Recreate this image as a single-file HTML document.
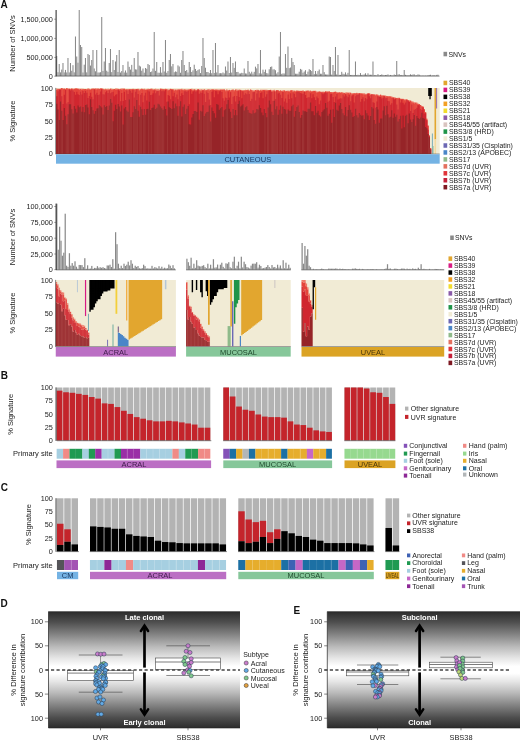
<!DOCTYPE html>
<html><head><meta charset="utf-8"><title>Mutational signatures across melanoma subtypes</title>
<style>html,body{margin:0;padding:0;background:#fff}svg{display:block;font-family:"Liberation Sans",Arial,Helvetica,sans-serif}</style>
</head><body>
<svg width="520" height="741" viewBox="0 0 520 741">
<rect width="520" height="741" fill="#ffffff"/>
<text x="0.6" y="7.6" font-size="10" font-weight="bold" fill="#111">A</text>
<text x="14.6" y="43.5" font-size="7.5" text-anchor="middle" transform="rotate(-90 14.6 43.5)" fill="#1c1c1c">Number of SNVs</text>
<text x="52.9" y="22" font-size="7.3" text-anchor="end" fill="#1c1c1c">1,500,000</text>
<line x1="54.3" y1="19.2" x2="55.8" y2="19.2" stroke="#333" stroke-width="0.5"/>
<text x="52.9" y="41.2" font-size="7.3" text-anchor="end" fill="#1c1c1c">1,000,000</text>
<line x1="54.3" y1="38.4" x2="55.8" y2="38.4" stroke="#333" stroke-width="0.5"/>
<text x="52.9" y="60.2" font-size="7.3" text-anchor="end" fill="#1c1c1c">500,000</text>
<line x1="54.3" y1="57.4" x2="55.8" y2="57.4" stroke="#333" stroke-width="0.5"/>
<text x="52.9" y="79" font-size="7.3" text-anchor="end" fill="#1c1c1c">0</text>
<line x1="54.3" y1="76.2" x2="55.8" y2="76.2" stroke="#333" stroke-width="0.5"/>
<g fill="#8a8a8a">
<rect x="56.2" y="56" width="1.05" height="20"/>
<rect x="57.45" y="72.23" width="1.05" height="3.77"/>
<rect x="58.7" y="64" width="1.05" height="12"/>
<rect x="59.95" y="72.38" width="1.05" height="3.62"/>
<rect x="61.2" y="69.58" width="1.05" height="6.42"/>
<rect x="62.45" y="63" width="1.05" height="13"/>
<rect x="63.7" y="72.4" width="1.05" height="3.6"/>
<rect x="64.95" y="69.92" width="1.05" height="6.08"/>
<rect x="66.2" y="72.43" width="1.05" height="3.57"/>
<rect x="67.45" y="58" width="1.05" height="18"/>
<rect x="68.7" y="72.41" width="1.05" height="3.59"/>
<rect x="69.95" y="63" width="1.05" height="13"/>
<rect x="71.2" y="70.77" width="1.05" height="5.23"/>
<rect x="72.45" y="65.17" width="1.05" height="10.83"/>
<rect x="73.7" y="72.35" width="1.05" height="3.65"/>
<rect x="74.95" y="36.5" width="1.05" height="39.5"/>
<rect x="76.2" y="56.5" width="1.05" height="19.5"/>
<rect x="77.45" y="62.68" width="1.05" height="13.32"/>
<rect x="78.7" y="10" width="1.05" height="66"/>
<rect x="79.95" y="45" width="1.05" height="31"/>
<rect x="81.2" y="47" width="1.05" height="29"/>
<rect x="82.45" y="72.48" width="1.05" height="3.52"/>
<rect x="83.7" y="64.67" width="1.05" height="11.33"/>
<rect x="84.95" y="58" width="1.05" height="18"/>
<rect x="86.2" y="72.35" width="1.05" height="3.65"/>
<rect x="87.45" y="54" width="1.05" height="22"/>
<rect x="88.7" y="55" width="1.05" height="21"/>
<rect x="89.95" y="65.56" width="1.05" height="10.44"/>
<rect x="91.2" y="60" width="1.05" height="16"/>
<rect x="92.45" y="50" width="1.05" height="26"/>
<rect x="93.7" y="68.48" width="1.05" height="7.52"/>
<rect x="94.95" y="71.3" width="1.05" height="4.7"/>
<rect x="96.2" y="50" width="1.05" height="26"/>
<rect x="97.45" y="72.52" width="1.05" height="3.48"/>
<rect x="98.7" y="72.53" width="1.05" height="3.47"/>
<rect x="99.95" y="72.22" width="1.05" height="3.78"/>
<rect x="101.2" y="17" width="1.05" height="59"/>
<rect x="102.45" y="70.9" width="1.05" height="5.1"/>
<rect x="103.7" y="61.5" width="1.05" height="14.5"/>
<rect x="104.95" y="48" width="1.05" height="28"/>
<rect x="106.2" y="70.7" width="1.05" height="5.3"/>
<rect x="107.45" y="71.82" width="1.05" height="4.18"/>
<rect x="108.7" y="63" width="1.05" height="13"/>
<rect x="109.95" y="49" width="1.05" height="27"/>
<rect x="111.2" y="72.11" width="1.05" height="3.89"/>
<rect x="112.45" y="60" width="1.05" height="16"/>
<rect x="113.7" y="70.02" width="1.05" height="5.98"/>
<rect x="114.95" y="61.5" width="1.05" height="14.5"/>
<rect x="116.2" y="55" width="1.05" height="21"/>
<rect x="117.45" y="71.93" width="1.05" height="4.07"/>
<rect x="118.7" y="50" width="1.05" height="26"/>
<rect x="119.95" y="72.53" width="1.05" height="3.47"/>
<rect x="121.2" y="71.08" width="1.05" height="4.92"/>
<rect x="122.45" y="65" width="1.05" height="11"/>
<rect x="123.7" y="72.47" width="1.05" height="3.53"/>
<rect x="124.95" y="70.46" width="1.05" height="5.54"/>
<rect x="126.2" y="72.64" width="1.05" height="3.36"/>
<rect x="127.45" y="61.5" width="1.05" height="14.5"/>
<rect x="128.7" y="66.86" width="1.05" height="9.14"/>
<rect x="129.95" y="69.59" width="1.05" height="6.41"/>
<rect x="131.2" y="64.87" width="1.05" height="11.13"/>
<rect x="132.45" y="71.85" width="1.05" height="4.15"/>
<rect x="133.7" y="58" width="1.05" height="18"/>
<rect x="134.95" y="69.36" width="1.05" height="6.64"/>
<rect x="136.2" y="69.55" width="1.05" height="6.45"/>
<rect x="137.45" y="52" width="1.05" height="24"/>
<rect x="138.7" y="65.63" width="1.05" height="10.37"/>
<rect x="139.95" y="66.5" width="1.05" height="9.5"/>
<rect x="141.2" y="70.7" width="1.05" height="5.3"/>
<rect x="142.45" y="68.51" width="1.05" height="7.49"/>
<rect x="143.7" y="72.68" width="1.05" height="3.32"/>
<rect x="144.95" y="67.99" width="1.05" height="8.01"/>
<rect x="146.2" y="68.77" width="1.05" height="7.23"/>
<rect x="147.45" y="64" width="1.05" height="12"/>
<rect x="148.7" y="65" width="1.05" height="11"/>
<rect x="149.95" y="72.08" width="1.05" height="3.92"/>
<rect x="151.2" y="71.47" width="1.05" height="4.53"/>
<rect x="152.45" y="68.53" width="1.05" height="7.47"/>
<rect x="153.7" y="32" width="1.05" height="44"/>
<rect x="154.95" y="70.88" width="1.05" height="5.12"/>
<rect x="156.2" y="62" width="1.05" height="14"/>
<rect x="157.45" y="72.66" width="1.05" height="3.34"/>
<rect x="158.7" y="72.74" width="1.05" height="3.26"/>
<rect x="159.95" y="67.09" width="1.05" height="8.91"/>
<rect x="161.2" y="72.65" width="1.05" height="3.35"/>
<rect x="162.45" y="62" width="1.05" height="14"/>
<rect x="163.7" y="71.5" width="1.05" height="4.5"/>
<rect x="164.95" y="40" width="1.05" height="36"/>
<rect x="166.2" y="72.74" width="1.05" height="3.26"/>
<rect x="167.45" y="71.06" width="1.05" height="4.94"/>
<rect x="168.7" y="60" width="1.05" height="16"/>
<rect x="169.95" y="54" width="1.05" height="22"/>
<rect x="171.2" y="66.35" width="1.05" height="9.65"/>
<rect x="172.45" y="64" width="1.05" height="12"/>
<rect x="173.7" y="72.23" width="1.05" height="3.77"/>
<rect x="174.95" y="71.41" width="1.05" height="4.59"/>
<rect x="176.2" y="71.82" width="1.05" height="4.18"/>
<rect x="177.45" y="65.39" width="1.05" height="10.61"/>
<rect x="178.7" y="66.5" width="1.05" height="9.5"/>
<rect x="179.95" y="72.74" width="1.05" height="3.26"/>
<rect x="181.2" y="60" width="1.05" height="16"/>
<rect x="182.45" y="51" width="1.05" height="25"/>
<rect x="183.7" y="65" width="1.05" height="11"/>
<rect x="184.95" y="71" width="1.05" height="5"/>
<rect x="186.2" y="69.99" width="1.05" height="6.01"/>
<rect x="187.45" y="72.47" width="1.05" height="3.53"/>
<rect x="188.7" y="62" width="1.05" height="14"/>
<rect x="189.95" y="67" width="1.05" height="9"/>
<rect x="191.2" y="71.96" width="1.05" height="4.04"/>
<rect x="192.45" y="70.36" width="1.05" height="5.64"/>
<rect x="193.7" y="64.7" width="1.05" height="11.3"/>
<rect x="194.95" y="68.96" width="1.05" height="7.04"/>
<rect x="196.2" y="70.92" width="1.05" height="5.08"/>
<rect x="197.45" y="69.91" width="1.05" height="6.09"/>
<rect x="198.7" y="69.24" width="1.05" height="6.76"/>
<rect x="199.95" y="73.09" width="1.05" height="2.91"/>
<rect x="201.2" y="65.97" width="1.05" height="10.03"/>
<rect x="202.45" y="38" width="1.05" height="38"/>
<rect x="203.7" y="58" width="1.05" height="18"/>
<rect x="204.95" y="67.74" width="1.05" height="8.26"/>
<rect x="206.2" y="72.03" width="1.05" height="3.97"/>
<rect x="207.45" y="72.01" width="1.05" height="3.99"/>
<rect x="208.7" y="73.13" width="1.05" height="2.87"/>
<rect x="209.95" y="70" width="1.05" height="6"/>
<rect x="211.2" y="73.2" width="1.05" height="2.8"/>
<rect x="212.45" y="50" width="1.05" height="26"/>
<rect x="213.7" y="72.97" width="1.05" height="3.03"/>
<rect x="214.95" y="43" width="1.05" height="33"/>
<rect x="216.2" y="72.47" width="1.05" height="3.53"/>
<rect x="217.45" y="65" width="1.05" height="11"/>
<rect x="218.7" y="73.3" width="1.05" height="2.7"/>
<rect x="219.95" y="73.18" width="1.05" height="2.82"/>
<rect x="221.2" y="73.27" width="1.05" height="2.73"/>
<rect x="222.45" y="72.44" width="1.05" height="3.56"/>
<rect x="223.7" y="73.35" width="1.05" height="2.65"/>
<rect x="224.95" y="66.5" width="1.05" height="9.5"/>
<rect x="226.2" y="70.57" width="1.05" height="5.43"/>
<rect x="227.45" y="61.5" width="1.05" height="14.5"/>
<rect x="228.7" y="73.01" width="1.05" height="2.99"/>
<rect x="229.95" y="57" width="1.05" height="19"/>
<rect x="231.2" y="72.55" width="1.05" height="3.45"/>
<rect x="232.45" y="63" width="1.05" height="13"/>
<rect x="233.7" y="67.9" width="1.05" height="8.1"/>
<rect x="234.95" y="61.5" width="1.05" height="14.5"/>
<rect x="236.2" y="72.01" width="1.05" height="3.99"/>
<rect x="237.45" y="71.9" width="1.05" height="4.1"/>
<rect x="238.7" y="73.47" width="1.05" height="2.53"/>
<rect x="239.95" y="73.47" width="1.05" height="2.53"/>
<rect x="241.2" y="72.8" width="1.05" height="3.2"/>
<rect x="242.45" y="73.13" width="1.05" height="2.87"/>
<rect x="243.7" y="68.5" width="1.05" height="7.5"/>
<rect x="244.95" y="73.43" width="1.05" height="2.57"/>
<rect x="246.2" y="73.58" width="1.05" height="2.42"/>
<rect x="247.45" y="61" width="1.05" height="15"/>
<rect x="248.7" y="71.77" width="1.05" height="4.23"/>
<rect x="249.95" y="73.51" width="1.05" height="2.49"/>
<rect x="251.2" y="71.68" width="1.05" height="4.32"/>
<rect x="252.45" y="73.63" width="1.05" height="2.37"/>
<rect x="253.7" y="71.83" width="1.05" height="4.17"/>
<rect x="254.95" y="66.65" width="1.05" height="9.35"/>
<rect x="256.2" y="68.36" width="1.05" height="7.64"/>
<rect x="257.45" y="64" width="1.05" height="12"/>
<rect x="258.7" y="73.3" width="1.05" height="2.7"/>
<rect x="259.95" y="50" width="1.05" height="26"/>
<rect x="261.2" y="73.55" width="1.05" height="2.45"/>
<rect x="262.45" y="69.64" width="1.05" height="6.36"/>
<rect x="263.7" y="71.92" width="1.05" height="4.08"/>
<rect x="264.95" y="69.6" width="1.05" height="6.4"/>
<rect x="266.2" y="73.11" width="1.05" height="2.89"/>
<rect x="267.45" y="73.48" width="1.05" height="2.52"/>
<rect x="268.7" y="69.29" width="1.05" height="6.71"/>
<rect x="269.95" y="66.96" width="1.05" height="9.04"/>
<rect x="271.2" y="66.5" width="1.05" height="9.5"/>
<rect x="272.45" y="69.44" width="1.05" height="6.56"/>
<rect x="273.7" y="69.32" width="1.05" height="6.68"/>
<rect x="274.95" y="70.23" width="1.05" height="5.77"/>
<rect x="276.2" y="73.53" width="1.05" height="2.47"/>
<rect x="277.45" y="72.2" width="1.05" height="3.8"/>
<rect x="278.7" y="56.5" width="1.05" height="19.5"/>
<rect x="279.95" y="32" width="1.05" height="44"/>
<rect x="281.2" y="73.83" width="1.05" height="2.17"/>
<rect x="282.45" y="73.43" width="1.05" height="2.57"/>
<rect x="283.7" y="73.5" width="1.05" height="2.5"/>
<rect x="284.95" y="54" width="1.05" height="22"/>
<rect x="286.2" y="67.82" width="1.05" height="8.18"/>
<rect x="287.45" y="46.5" width="1.05" height="29.5"/>
<rect x="288.7" y="68.15" width="1.05" height="7.85"/>
<rect x="289.95" y="67.48" width="1.05" height="8.52"/>
<rect x="291.2" y="58" width="1.05" height="18"/>
<rect x="292.45" y="62" width="1.05" height="14"/>
<rect x="293.7" y="65" width="1.05" height="11"/>
<rect x="294.95" y="73.68" width="1.05" height="2.32"/>
<rect x="296.2" y="73.76" width="1.05" height="2.24"/>
<rect x="297.45" y="73.75" width="1.05" height="2.25"/>
<rect x="298.7" y="71.69" width="1.05" height="4.31"/>
<rect x="299.95" y="68.91" width="1.05" height="7.09"/>
<rect x="301.2" y="69.65" width="1.05" height="6.35"/>
<rect x="302.45" y="72.73" width="1.05" height="3.27"/>
<rect x="303.7" y="71.53" width="1.05" height="4.47"/>
<rect x="304.95" y="70.17" width="1.05" height="5.83"/>
<rect x="306.2" y="74" width="1.05" height="2"/>
<rect x="307.45" y="71.61" width="1.05" height="4.39"/>
<rect x="308.7" y="69.23" width="1.05" height="6.77"/>
<rect x="309.95" y="70" width="1.05" height="6"/>
<rect x="311.2" y="71.09" width="1.05" height="4.91"/>
<rect x="312.45" y="59" width="1.05" height="17"/>
<rect x="313.7" y="74.09" width="1.05" height="1.91"/>
<rect x="314.95" y="71" width="1.05" height="5"/>
<rect x="316.2" y="73.81" width="1.05" height="2.19"/>
<rect x="317.45" y="71.09" width="1.05" height="4.91"/>
<rect x="318.7" y="69.5" width="1.05" height="6.5"/>
<rect x="319.95" y="73.72" width="1.05" height="2.28"/>
<rect x="321.2" y="73.75" width="1.05" height="2.25"/>
<rect x="322.45" y="65" width="1.05" height="11"/>
<rect x="323.7" y="72.14" width="1.05" height="3.86"/>
<rect x="324.95" y="74.42" width="1.05" height="1.58"/>
<rect x="326.2" y="74.5" width="1.05" height="1.5"/>
<rect x="327.45" y="74.51" width="1.05" height="1.49"/>
<rect x="328.7" y="56.5" width="1.05" height="19.5"/>
<rect x="329.95" y="57" width="1.05" height="19"/>
<rect x="331.2" y="74.61" width="1.05" height="1.39"/>
<rect x="332.45" y="65" width="1.05" height="11"/>
<rect x="333.7" y="70.97" width="1.05" height="5.03"/>
<rect x="334.95" y="47" width="1.05" height="29"/>
<rect x="336.2" y="74.43" width="1.05" height="1.57"/>
<rect x="337.45" y="55" width="1.05" height="21"/>
<rect x="338.7" y="74.83" width="1.05" height="1.17"/>
<rect x="339.95" y="74.9" width="1.05" height="1.1"/>
<rect x="341.2" y="71.82" width="1.05" height="4.18"/>
<rect x="342.45" y="73.72" width="1.05" height="2.28"/>
<rect x="343.7" y="74.24" width="1.05" height="1.76"/>
<rect x="344.95" y="72.36" width="1.05" height="3.64"/>
<rect x="346.2" y="74.54" width="1.05" height="1.46"/>
<rect x="347.45" y="72.82" width="1.05" height="3.18"/>
<rect x="348.7" y="50" width="1.05" height="26"/>
<rect x="349.95" y="74.97" width="1.05" height="1.03"/>
<rect x="351.2" y="74.94" width="1.05" height="1.06"/>
<rect x="352.45" y="74.9" width="1.05" height="1.1"/>
<rect x="353.7" y="74.98" width="1.05" height="1.02"/>
<rect x="354.95" y="61.5" width="1.05" height="14.5"/>
<rect x="356.2" y="74.99" width="1.05" height="1.01"/>
<rect x="357.45" y="74.75" width="1.05" height="1.25"/>
<rect x="358.7" y="75.13" width="1.05" height="0.87"/>
<rect x="359.95" y="73.06" width="1.05" height="2.94"/>
<rect x="361.2" y="74.92" width="1.05" height="1.08"/>
<rect x="362.45" y="74.74" width="1.05" height="1.26"/>
<rect x="363.7" y="74.45" width="1.05" height="1.55"/>
<rect x="364.95" y="73.27" width="1.05" height="2.73"/>
<rect x="366.2" y="74.88" width="1.05" height="1.12"/>
<rect x="367.45" y="73.3" width="1.05" height="2.7"/>
<rect x="368.7" y="74.75" width="1.05" height="1.25"/>
<rect x="369.95" y="74.71" width="1.05" height="1.29"/>
<rect x="371.2" y="74.75" width="1.05" height="1.25"/>
<rect x="372.45" y="61.5" width="1.05" height="14.5"/>
<rect x="373.7" y="74.96" width="1.05" height="1.04"/>
<rect x="374.95" y="75.28" width="1.05" height="0.72"/>
<rect x="376.2" y="75.34" width="1.05" height="0.66"/>
<rect x="377.45" y="74.12" width="1.05" height="1.88"/>
<rect x="378.7" y="75.32" width="1.05" height="0.68"/>
<rect x="379.95" y="75" width="1.05" height="1"/>
<rect x="381.2" y="74.45" width="1.05" height="1.55"/>
<rect x="382.45" y="74.89" width="1.05" height="1.11"/>
<rect x="383.7" y="75.25" width="1.05" height="0.75"/>
<rect x="384.95" y="74.98" width="1.05" height="1.02"/>
<rect x="386.2" y="74.92" width="1.05" height="1.08"/>
<rect x="387.45" y="74.38" width="1.05" height="1.62"/>
<rect x="388.7" y="75.42" width="1.05" height="0.58"/>
<rect x="389.95" y="74.95" width="1.05" height="1.05"/>
<rect x="391.2" y="75.36" width="1.05" height="0.64"/>
<rect x="392.45" y="75.35" width="1.05" height="0.65"/>
<rect x="393.7" y="74.5" width="1.05" height="1.5"/>
<rect x="394.95" y="75.09" width="1.05" height="0.91"/>
<rect x="396.2" y="61" width="1.05" height="15"/>
<rect x="397.45" y="74.58" width="1.05" height="1.42"/>
<rect x="398.7" y="74.16" width="1.05" height="1.84"/>
<rect x="399.95" y="75.22" width="1.05" height="0.78"/>
<rect x="401.2" y="74.96" width="1.05" height="1.04"/>
<rect x="402.45" y="75.15" width="1.05" height="0.85"/>
<rect x="403.7" y="70" width="1.05" height="6"/>
<rect x="404.95" y="74.83" width="1.05" height="1.17"/>
<rect x="406.2" y="75.25" width="1.05" height="0.75"/>
<rect x="407.45" y="75.15" width="1.05" height="0.85"/>
<rect x="408.7" y="75.24" width="1.05" height="0.76"/>
<rect x="409.95" y="74.27" width="1.05" height="1.73"/>
<rect x="411.2" y="74.89" width="1.05" height="1.11"/>
<rect x="412.45" y="74.49" width="1.05" height="1.51"/>
<rect x="413.7" y="74.33" width="1.05" height="1.67"/>
<rect x="414.95" y="75.49" width="1.05" height="0.51"/>
<rect x="416.2" y="75.19" width="1.05" height="0.81"/>
<rect x="417.45" y="74.4" width="1.05" height="1.6"/>
<rect x="418.7" y="74.68" width="1.05" height="1.32"/>
<rect x="419.95" y="75.57" width="1.05" height="0.43"/>
<rect x="421.2" y="75.58" width="1.05" height="0.42"/>
<rect x="422.45" y="75.39" width="1.05" height="0.61"/>
<rect x="423.7" y="75.6" width="1.05" height="0.4"/>
<rect x="424.95" y="75.56" width="1.05" height="0.44"/>
<rect x="426.2" y="75.61" width="1.05" height="0.39"/>
<rect x="427.45" y="75.13" width="1.05" height="0.87"/>
<rect x="428.7" y="74.95" width="1.05" height="1.05"/>
<rect x="429.95" y="74.73" width="1.05" height="1.27"/>
<rect x="431.2" y="75.62" width="1.05" height="0.38"/>
<rect x="432.45" y="75.11" width="1.05" height="0.89"/>
<rect x="433.7" y="75.22" width="1.05" height="0.78"/>
<rect x="434.95" y="75.64" width="1.05" height="0.36"/>
<rect x="436.2" y="74.87" width="1.05" height="1.13"/>
<rect x="437.45" y="74.71" width="1.05" height="1.29"/>
</g>
<line x1="56.1" y1="10" x2="56.1" y2="76.3" stroke="#222" stroke-width="1"/>
<line x1="55.8" y1="76.1" x2="439.5" y2="76.1" stroke="#333" stroke-width="0.6"/>
<rect x="443.5" y="51.8" width="3.6" height="4.5" fill="#8a8a8a"/>
<text x="448.4" y="56.6" font-size="6.9" fill="#1c1c1c">SNVs</text>
<rect x="56" y="88" width="383.7" height="65.8" fill="#f1ebd5"/>
<path d="M56.2 153.8V88.61H57.45V88.66H58.7V88.64H59.95V88.53H61.2V88H62.45V88.6H63.7V88.14H64.95V88.77H66.2V88.05H67.45V88.48H68.7V88.64H69.95V88.84H71.2V88.24H72.45V88.68H73.7V88.5H74.95V88.2H76.2V88.08H77.45V88.63H78.7V88.71H79.95V88.7H81.2V88.81H82.45V88.75H83.7V88.96H84.95V88.97H86.2V88.94H87.45V88.35H88.7V88.66H89.95V88.97H91.2V88.38H92.45V88.33H93.7V88.44H94.95V88.32H96.2V88.46H97.45V88.59H98.7V88.84H99.95V88.23H101.2V88.49H102.45V88.86H103.7V89.08H104.95V88.85H106.2V89H107.45V88.72H108.7V88.89H109.95V88.68H111.2V88.7H112.45V89.12H113.7V89.03H114.95V88.44H116.2V88.39H117.45V88.86H118.7V89.09H119.95V88.75H121.2V88.44H122.45V88.59H123.7V88.66H124.95V88.93H126.2V89.01H127.45V89.1H128.7V89.06H129.95V89.18H131.2V89.04H132.45V88.82H133.7V89.04H134.95V89.1H136.2V88.91H137.45V88.7H138.7V89.31H139.95V89.11H141.2V88.52H142.45V89.3H143.7V88.79H144.95V89.26H146.2V89.17H147.45V88.82H148.7V89.17H149.95V88.81H151.2V88.6H152.45V89.23H153.7V89.23H154.95V88.77H156.2V89.27H157.45V89.1H158.7V89.4H159.95V88.6H161.2V88.66H162.45V89.18H163.7V89.18H164.95V88.78H166.2V89.09H167.45V89.47H168.7V89.47H169.95V88.75H171.2V89H172.45V88.89H173.7V89.52H174.95V89.34H176.2V89.4H177.45V89.29H178.7V89.51H179.95V89.11H181.2V88.75H182.45V89.41H183.7V88.98H184.95V89.15H186.2V89.43H187.45V89.32H188.7V88.98H189.95V88.9H191.2V88.86H192.45V89.48H193.7V89.2H194.95V89.51H196.2V89.73H197.45V89.07H198.7V89.42H199.95V89.53H201.2V89.3H202.45V89.63H203.7V89.04H204.95V89.68H206.2V89.76H207.45V89.4H208.7V89.17H209.95V89.45H211.2V89.35H212.45V89.17H213.7V89.56H214.95V89.15H216.2V89.21H217.45V89.58H218.7V89.57H219.95V89.31H221.2V89.57H222.45V89.55H223.7V89.33H224.95V89.89H226.2V89.32H227.45V89.89H228.7V89.74H229.95V89.93H231.2V89.84H232.45V89.5H233.7V89.99H234.95V89.61H236.2V89.57H237.45V89.82H238.7V89.5H239.95V89.65H241.2V90.13H242.45V90.06H243.7V90.18H244.95V89.69H246.2V90.09H247.45V89.47H248.7V90.22H249.95V89.44H251.2V90.23H252.45V90.27H253.7V90.13H254.95V90.06H256.2V89.67H257.45V89.73H258.7V90.18H259.95V89.79H261.2V89.74H262.45V89.69H263.7V89.65H264.95V89.7H266.2V89.66H267.45V89.89H268.7V90H269.95V89.76H271.2V90.54H272.45V90.09H273.7V89.85H274.95V90.45H276.2V90.11H277.45V90.02H278.7V90.67H279.95V89.88H281.2V90.7H282.45V90.28H283.7V90.06H284.95V90.78H286.2V90.64H287.45V90.58H288.7V90.75H289.95V90.32H291.2V90.12H292.45V90.47H293.7V90.52H294.95V90.66H296.2V90.32H297.45V90.58H298.7V90.74H299.95V90.73H301.2V90.87H302.45V90.21H303.7V90.9H304.95V90.75H306.2V90.57H307.45V90.35H308.7V90.79H309.95V90.46H311.2V90.98H312.45V90.78H313.7V90.85H314.95V90.78H316.2V91.47H317.45V91.48H318.7V91.2H319.95V91.52H321.2V91.66H322.45V91.47H323.7V91.66H324.95V91.27H326.2V91.35H327.45V91.25H328.7V91.44H329.95V91.9H331.2V92.05H332.45V92.08H333.7V91.83H334.95V91.69H336.2V91.98H337.45V92.5H338.7V92.36H339.95V92.2H341.2V92.11H342.45V92.47H343.7V92.71H344.95V92.54H346.2V92.31H347.45V92.74H348.7V92.62H349.95V92.39H351.2V93.26H352.45V92.95H353.7V93.04H354.95V93.13H356.2V92.71H357.45V93.11H358.7V93.05H359.95V92.95H361.2V93.02H362.45V93.28H363.7V93.27H364.95V93.67H366.2V93.83H367.45V93.32H368.7V93.49H369.95V93.74H371.2V93.95H372.45V94.37H373.7V94.36H374.95V94.45H376.2V94.19H377.45V94.81H378.7V95.22H379.95V94.7H381.2V95.15H382.45V95.3H383.7V95.39H384.95V95.43H386.2V95.96H387.45V95.92H388.7V96.12H389.95V96.4H391.2V96.61H392.45V96.93H393.7V97.25H394.95V97.41H396.2V97.92H397.45V97.68H398.7V97.79H399.95V98.61H401.2V98.66H402.45V98.7H403.7V99.18H404.95V99.23H406.2V99.14H407.45V100.13H408.7V100.24H409.95V100.62H411.2V101.33H412.45V101.58H413.7V102.19H414.95V102.13H416.2V102.49H417.45V103.55H418.7V104.01H419.95V105.06H421.2V105.92H422.45V106.35H423.7V108.95H424.95V112.16H426.2V118.46H427.45V125.52H428.7V135.44H429.95V148H431.2V153.8H432.45V153.8H433.7V153.8H434.95V153.8H436.2V153.8H437.45V153.8H438.7V153.8Z" fill="#ee7a68"/>
<path d="M56.2 153.8V89.91H57.45V89.34H58.7V89.22H59.95V89.21H61.2V88.05H62.45V89.16H63.7V88.89H64.95V89.33H66.2V88.14H67.45V89.2H68.7V88.79H69.95V89.25H71.2V88.69H72.45V89.41H73.7V89.07H74.95V88.86H76.2V88.91H77.45V88.72H78.7V89.86H79.95V89.09H81.2V90.09H82.45V89.15H83.7V89.23H84.95V89.09H86.2V89.71H87.45V89.29H88.7V89.61H89.95V90H91.2V89.05H92.45V89.1H93.7V88.92H94.95V89.14H96.2V89.44H97.45V88.68H98.7V89.11H99.95V88.73H101.2V88.59H102.45V89.26H103.7V89.99H104.95V89.46H106.2V90.23H107.45V89.99H108.7V89.65H109.95V88.85H111.2V89.88H112.45V89.71H113.7V89.03H114.95V89.66H116.2V89.71H117.45V89.23H118.7V89.42H119.95V89.24H121.2V89.68H122.45V89.18H123.7V88.83H124.95V89.9H126.2V89.53H127.45V90.29H128.7V89.24H129.95V89.3H131.2V89.58H132.45V89.27H133.7V89.87H134.95V89.43H136.2V88.94H137.45V89.32H138.7V90.44H139.95V89.79H141.2V89.12H142.45V89.61H143.7V89.63H144.95V90.02H146.2V89.78H147.45V89.44H148.7V89.19H149.95V89.15H151.2V89.16H152.45V90.21H153.7V89.54H154.95V90.02H156.2V90.52H157.45V90.38H158.7V90.56H159.95V89.03H161.2V89.16H162.45V89.19H163.7V89.45H164.95V89.35H166.2V89.57H167.45V90.54H168.7V89.81H169.95V89.11H171.2V89.36H172.45V89.72H173.7V90.78H174.95V89.98H176.2V90.42H177.45V89.76H178.7V89.59H179.95V90.34H181.2V89.69H182.45V90.22H183.7V90.09H184.95V90.12H186.2V90.19H187.45V89.98H188.7V90.05H189.95V89.05H191.2V90H192.45V90.72H193.7V89.39H194.95V90.37H196.2V90.14H197.45V89.15H198.7V90.34H199.95V90.78H201.2V90.61H202.45V89.9H203.7V90.2H204.95V90.52H206.2V89.95H207.45V89.54H208.7V90.41H209.95V89.96H211.2V89.64H212.45V89.41H213.7V89.89H214.95V90.14H216.2V90.03H217.45V90.14H218.7V90.21H219.95V89.91H221.2V89.69H222.45V89.66H223.7V89.83H224.95V91.2H226.2V90.58H227.45V90.91H228.7V90.1H229.95V91.14H231.2V90.05H232.45V89.72H233.7V91.14H234.95V89.74H236.2V90.88H237.45V90.4H238.7V90.34H239.95V90.06H241.2V90.81H242.45V90.92H243.7V90.48H244.95V90.51H246.2V90.22H247.45V90H248.7V91.07H249.95V89.77H251.2V90.3H252.45V91.51H253.7V91.2H254.95V90.12H256.2V90.65H257.45V90.02H258.7V91.1H259.95V90.52H261.2V91.01H262.45V90H263.7V90.08H264.95V90.61H266.2V90.79H267.45V90.3H268.7V90.04H269.95V89.95H271.2V91.51H272.45V91.16H273.7V90.94H274.95V91.57H276.2V90.24H277.45V90.44H278.7V91.15H279.95V91H281.2V91.16H282.45V91.42H283.7V91.07H284.95V91.43H286.2V90.99H287.45V91.5H288.7V91.66H289.95V90.85H291.2V90.46H292.45V91.63H293.7V91.37H294.95V91.77H296.2V91.08H297.45V90.89H298.7V90.94H299.95V90.95H301.2V91H302.45V91.18H303.7V91.41H304.95V91.66H306.2V91.1H307.45V91.11H308.7V91.81H309.95V91.3H311.2V92.01H312.45V91.33H313.7V91.09H314.95V91.42H316.2V92.71H317.45V92.2H318.7V91.74H319.95V92.03H321.2V92.18H322.45V92.39H323.7V92.35H324.95V91.55H326.2V92.09H327.45V92.1H328.7V91.61H329.95V92.25H331.2V92.42H332.45V92.64H333.7V91.91H334.95V91.87H336.2V92.85H337.45V92.81H338.7V92.58H339.95V93.07H341.2V92.8H342.45V93.2H343.7V92.9H344.95V93.68H346.2V93.42H347.45V92.84H348.7V93.84H349.95V93.02H351.2V94.39H352.45V93.96H353.7V93.43H354.95V93.49H356.2V93.13H357.45V94.14H358.7V93.06H359.95V93.81H361.2V93.94H362.45V94.16H363.7V94.48H364.95V94.71H366.2V94.4H367.45V93.37H368.7V93.51H369.95V95.03H371.2V94.15H372.45V94.53H373.7V94.68H374.95V95.39H376.2V94.8H377.45V95.75H378.7V96.18H379.95V94.78H381.2V96.2H382.45V95.85H383.7V95.77H384.95V96.52H386.2V96.36H387.45V96.82H388.7V96.68H389.95V96.45H391.2V97.73H392.45V97.38H393.7V98.47H394.95V98.02H396.2V98.03H397.45V98.44H398.7V98.04H399.95V99.09H401.2V99.15H402.45V98.91H403.7V100.32H404.95V100.26H406.2V99.48H407.45V100.24H408.7V101.44H409.95V100.78H411.2V102.21H412.45V102.85H413.7V103.38H414.95V103.07H416.2V103.72H417.45V104.55H418.7V104.23H419.95V105.07H421.2V106.61H422.45V106.94H423.7V109.39H424.95V112.35H426.2V119.44H427.45V125.87H428.7V135.62H429.95V148.14H431.2V153.8H432.45V153.8H433.7V153.8H434.95V153.8H436.2V153.8H437.45V153.8H438.7V153.8Z" fill="#e5443b"/>
<path d="M56.2 153.8V96.21H57.45V91.19H58.7V89.75H59.95V89.76H61.2V96.16H62.45V104.03H63.7V94.77H64.95V89.94H66.2V103.47H67.45V101.89H68.7V89.54H69.95V90.56H71.2V89.22H72.45V90.42H73.7V91.96H74.95V94.74H76.2V91.65H77.45V94.34H78.7V94.97H79.95V91.69H81.2V94.38H82.45V90.96H83.7V93.01H84.95V91.01H86.2V92.65H87.45V97.93H88.7V95.97H89.95V92.77H91.2V96.73H92.45V99.25H93.7V89.6H94.95V94.58H96.2V92.75H97.45V95.04H98.7V94.54H99.95V91.54H101.2V89.34H102.45V94.35H103.7V94.55H104.95V92.16H106.2V90.76H107.45V92.9H108.7V90.37H109.95V93.23H111.2V92.25H112.45V91.85H113.7V96.26H114.95V94.74H116.2V94.19H117.45V89.77H118.7V90.63H119.95V101.2H121.2V93.05H122.45V100.88H123.7V91.79H124.95V99.89H126.2V90.38H127.45V93.89H128.7V89.98H129.95V90.7H131.2V92.75H132.45V89.84H133.7V97.41H134.95V91.7H136.2V89.48H137.45V94.03H138.7V105.19H139.95V94.83H141.2V93.12H142.45V102.13H143.7V95.6H144.95V92.66H146.2V100.38H147.45V90.57H148.7V91.43H149.95V94.88H151.2V94.65H152.45V93.28H153.7V90.48H154.95V93.28H156.2V91.26H157.45V91.07H158.7V95.56H159.95V89.9H161.2V91.19H162.45V90.6H163.7V91.17H164.95V89.9H166.2V101.82H167.45V94.96H168.7V95.78H169.95V99.3H171.2V89.89H172.45V96.26H173.7V92.84H174.95V97.26H176.2V94.38H177.45V99.16H178.7V90.13H179.95V96.12H181.2V93.27H182.45V95.11H183.7V91.35H184.95V91.19H186.2V91.85H187.45V91H188.7V104.28H189.95V90.29H191.2V93.69H192.45V91.4H193.7V90.41H194.95V91.38H196.2V91.17H197.45V89.75H198.7V93.66H199.95V92.45H201.2V92.76H202.45V90.42H203.7V93.87H204.95V101.94H206.2V91.46H207.45V93.02H208.7V99.55H209.95V104.92H211.2V91.8H212.45V90.5H213.7V97.25H214.95V90.69H216.2V91.33H217.45V94.29H218.7V91.35H219.95V90.77H221.2V92.09H222.45V98.22H223.7V100.72H224.95V97.41H226.2V97.99H227.45V91.46H228.7V97.62H229.95V92.19H231.2V104.11H232.45V96.83H233.7V95.97H234.95V101.38H236.2V96.1H237.45V91.17H238.7V96.91H239.95V90.59H241.2V98.15H242.45V91.45H243.7V94.82H244.95V93.22H246.2V94.34H247.45V91.32H248.7V94.04H249.95V101.02H251.2V98.68H252.45V92.26H253.7V92.12H254.95V100.42H256.2V93.48H257.45V90.67H258.7V97.59H259.95V92.95H261.2V92.13H262.45V98.27H263.7V91.22H264.95V96.79H266.2V94.22H267.45V91.26H268.7V90.63H269.95V90.48H271.2V92.08H272.45V100.94H273.7V91.54H274.95V98.95H276.2V90.85H277.45V93.41H278.7V92.76H279.95V94.79H281.2V97.96H282.45V92.02H283.7V101.59H284.95V98.49H286.2V102.8H287.45V94.6H288.7V99.04H289.95V93.13H291.2V98.25H292.45V92.59H293.7V93.65H294.95V97.21H296.2V91.76H297.45V91.72H298.7V92.19H299.95V93.07H301.2V93.49H302.45V93.8H303.7V91.95H304.95V95.01H306.2V98.08H307.45V97.34H308.7V97.17H309.95V93.19H311.2V98.2H312.45V94.18H313.7V97.37H314.95V99.96H316.2V96.38H317.45V98.21H318.7V104.15H319.95V100.55H321.2V92.71H322.45V94.21H323.7V93.34H324.95V92.18H326.2V93.08H327.45V101.67H328.7V100.65H329.95V94.17H331.2V93.97H332.45V97.02H333.7V101.88H334.95V96.59H336.2V93.99H337.45V99.41H338.7V98.82H339.95V98.36H341.2V98.47H342.45V94.53H343.7V96.41H344.95V94.21H346.2V95.79H347.45V97.21H348.7V95.12H349.95V101.25H351.2V96.35H352.45V95.08H353.7V102.62H354.95V96.23H356.2V94.77H357.45V94.69H358.7V93.98H359.95V101.8H361.2V98.91H362.45V97.21H363.7V101.17H364.95V98.09H366.2V99.32H367.45V94.07H368.7V96.22H369.95V98.33H371.2V94.68H372.45V102.37H373.7V102.82H374.95V107.69H376.2V101.45H377.45V96.28H378.7V97.12H379.95V97.09H381.2V98.42H382.45V97.63H383.7V96.32H384.95V98.26H386.2V97.88H387.45V101.02H388.7V101.24H389.95V104.73H391.2V103.15H392.45V97.99H393.7V99.49H394.95V99H396.2V104.54H397.45V109.5H398.7V99H399.95V102.62H401.2V99.86H402.45V102.72H403.7V104.49H404.95V102.42H406.2V100.01H407.45V100.8H408.7V101.99H409.95V110.9H411.2V104.49H412.45V112.97H413.7V109.66H414.95V109H416.2V107.65H417.45V105.17H418.7V105.23H419.95V109.12H421.2V109.97H422.45V107.52H423.7V113.58H424.95V113.28H426.2V120.35H427.45V129.69H428.7V136.16H429.95V148.7H431.2V153.8H432.45V153.8H433.7V153.8H434.95V153.8H436.2V153.8H437.45V153.8H438.7V153.8Z" fill="#d0262f"/>
<path d="M56.2 153.8V103.77H57.45V109.56H58.7V119.91H59.95V101.47H61.2V110.72H62.45V120H63.7V107.98H64.95V115.66H66.2V124.21H67.45V114.22H68.7V104.35H69.95V104.29H71.2V109.25H72.45V113.43H73.7V106.1H74.95V108.75H76.2V112.58H77.45V105.51H78.7V107.25H79.95V106.59H81.2V111.66H82.45V107.07H83.7V112.2H84.95V104.93H86.2V104.57H87.45V107.43H88.7V114.27H89.95V99.34H91.2V107.05H92.45V110.29H93.7V113.77H94.95V111.07H96.2V108.43H97.45V108.13H98.7V105.14H99.95V106.27H101.2V107.41H102.45V114.61H103.7V105.17H104.95V106.99H106.2V106.07H107.45V110.12H108.7V105.62H109.95V99.1H111.2V102.85H112.45V121.13H113.7V110.66H114.95V104.73H116.2V109.11H117.45V104.1H118.7V106.62H119.95V111.48H121.2V105.6H122.45V124.46H123.7V108.53H124.95V106.99H126.2V110.58H127.45V111.69H128.7V99.42H129.95V117.01H131.2V117.05H132.45V112.34H133.7V106.17H134.95V108.99H136.2V99.92H137.45V110.75H138.7V116.67H139.95V106.72H141.2V109.27H142.45V115.07H143.7V109.08H144.95V114.69H146.2V109.09H147.45V108.7H148.7V101.71H149.95V110.05H151.2V107.99H152.45V107.42H153.7V104.77H154.95V109.02H156.2V107.84H157.45V103.87H158.7V104.53H159.95V106.48H161.2V108.23H162.45V109.72H163.7V106.33H164.95V108.93H166.2V115.59H167.45V101.52H168.7V107.19H169.95V107.91H171.2V108.99H172.45V101.17H173.7V108.29H174.95V103.58H176.2V106.33H177.45V115.64H178.7V106.35H179.95V101.36H181.2V116.56H182.45V106.84H183.7V104.59H184.95V114.03H186.2V108.67H187.45V106.06H188.7V124.23H189.95V124.59H191.2V117.43H192.45V113.96H193.7V110.89H194.95V110.95H196.2V112.1H197.45V102.45H198.7V119.65H199.95V110.8H201.2V111.57H202.45V105.23H203.7V115.92H204.95V113.59H206.2V112.07H207.45V111.73H208.7V105.62H209.95V121.53H211.2V107.48H212.45V110.94H213.7V113.23H214.95V117.73H216.2V104.07H217.45V104.74H218.7V109.74H219.95V108.28H221.2V106.99H222.45V116.7H223.7V110.18H224.95V109.17H226.2V104.24H227.45V100.12H228.7V108.86H229.95V111.72H231.2V117.9H232.45V108.94H233.7V115.37H234.95V110.09H236.2V115.17H237.45V104.08H238.7V100.84H239.95V106.41H241.2V105.59H242.45V104.2H243.7V110.56H244.95V107.24H246.2V106.13H247.45V110.08H248.7V112.8H249.95V113.33H251.2V113.75H252.45V110.22H253.7V113.36H254.95V112.51H256.2V109.02H257.45V109.44H258.7V105.36H259.95V108.02H261.2V112.44H262.45V115.14H263.7V108.99H264.95V112.92H266.2V117.33H267.45V107.44H268.7V100.47H269.95V104.34H271.2V111.73H272.45V115.12H273.7V100.79H274.95V109.36H276.2V106.35H277.45V114.77H278.7V109.76H279.95V105.41H281.2V113.67H282.45V106.86H283.7V109.07H284.95V109.49H286.2V113.67H287.45V109.41H288.7V110.85H289.95V110.75H291.2V106.37H292.45V104.68H293.7V116.78H294.95V111.06H296.2V107.05H297.45V105.38H298.7V112.12H299.95V117.79H301.2V114.95H302.45V110.41H303.7V111.13H304.95V111.26H306.2V111.92H307.45V108.82H308.7V108.74H309.95V102.43H311.2V111.21H312.45V111.13H313.7V115.3H314.95V106.12H316.2V112.66H317.45V110.87H318.7V115.26H319.95V116.49H321.2V111.91H322.45V110.56H323.7V109.16H324.95V102.92H326.2V107.82H327.45V115.8H328.7V113.72H329.95V109.75H331.2V122.83H332.45V109.35H333.7V116.89H334.95V102.72H336.2V109.87H337.45V110.83H338.7V105.44H339.95V103.03H341.2V109.1H342.45V113.28H343.7V115.18H344.95V107.08H346.2V116.18H347.45V109.96H348.7V105.19H349.95V109.76H351.2V112.6H352.45V117.05H353.7V116.05H354.95V108.81H356.2V115.31H357.45V117.53H358.7V113.03H359.95V114.72H361.2V115.75H362.45V115.22H363.7V119.33H364.95V110.13H366.2V113.23H367.45V115.44H368.7V120H369.95V116.05H371.2V107.08H372.45V108.62H373.7V120.08H374.95V123.71H376.2V107.01H377.45V109.57H378.7V122.87H379.95V118.62H381.2V118.47H382.45V110.54H383.7V106.17H384.95V115.37H386.2V105.75H387.45V114.37H388.7V117.42H389.95V116.69H391.2V110.26H392.45V117.83H393.7V113.43H394.95V116.85H396.2V114.63H397.45V121.47H398.7V119.01H399.95V115.77H401.2V128.39H402.45V115.47H403.7V127.19H404.95V115.7H406.2V114.77H407.45V123.13H408.7V113.45H409.95V119.57H411.2V121.9H412.45V119.31H413.7V114.98H414.95V125.64H416.2V115.99H417.45V117.95H418.7V118.88H419.95V117.49H421.2V112.78H422.45V117.9H423.7V118.78H424.95V126.97H426.2V128.27H427.45V134.01H428.7V137.24H429.95V149.39H431.2V153.8H432.45V153.8H433.7V153.8H434.95V153.8H436.2V153.8H437.45V153.8H438.7V153.8Z" fill="#962428"/>
<path d="M58.7 153.8V88.66M61.2 153.8V88.53M62.45 153.8V88.6M66.2 153.8V88.77M67.45 153.8V88.48M68.7 153.8V88.64M71.2 153.8V88.84M72.45 153.8V88.68M73.7 153.8V88.68M79.95 153.8V88.71M81.2 153.8V88.81M83.7 153.8V88.96M86.2 153.8V88.97M88.7 153.8V88.66M92.45 153.8V88.38M93.7 153.8V88.44M96.2 153.8V88.46M98.7 153.8V88.84M99.95 153.8V88.84M102.45 153.8V88.86M103.7 153.8V89.08M104.95 153.8V89.08M107.45 153.8V89M108.7 153.8V88.89M109.95 153.8V88.89M111.2 153.8V88.7M112.45 153.8V89.12M117.45 153.8V88.86M119.95 153.8V89.09M122.45 153.8V88.59M126.2 153.8V89.01M127.45 153.8V89.1M128.7 153.8V89.1M129.95 153.8V89.18M131.2 153.8V89.18M133.7 153.8V89.04M134.95 153.8V89.1M136.2 153.8V89.1M137.45 153.8V88.91M139.95 153.8V89.31M141.2 153.8V89.11M143.7 153.8V89.3M144.95 153.8V89.26M148.7 153.8V89.17M151.2 153.8V88.81M154.95 153.8V89.23M156.2 153.8V89.27M157.45 153.8V89.27M158.7 153.8V89.4M159.95 153.8V89.4M161.2 153.8V88.66M162.45 153.8V89.18M163.7 153.8V89.18M167.45 153.8V89.47M171.2 153.8V89M174.95 153.8V89.52M176.2 153.8V89.4M178.7 153.8V89.51M179.95 153.8V89.51M183.7 153.8V89.41M184.95 153.8V89.15M186.2 153.8V89.43M187.45 153.8V89.43M194.95 153.8V89.51M196.2 153.8V89.73M199.95 153.8V89.53M201.2 153.8V89.53M203.7 153.8V89.63M204.95 153.8V89.68M206.2 153.8V89.76M207.45 153.8V89.76M208.7 153.8V89.4M209.95 153.8V89.45M211.2 153.8V89.45M221.2 153.8V89.57M223.7 153.8V89.55M226.2 153.8V89.89M227.45 153.8V89.89M231.2 153.8V89.93M232.45 153.8V89.84M233.7 153.8V89.99M236.2 153.8V89.61M237.45 153.8V89.82M239.95 153.8V89.65M243.7 153.8V90.18M244.95 153.8V90.18M246.2 153.8V90.09M247.45 153.8V90.09M248.7 153.8V90.22M249.95 153.8V90.22M251.2 153.8V90.23M252.45 153.8V90.27M253.7 153.8V90.27M254.95 153.8V90.13M256.2 153.8V90.06M257.45 153.8V89.73M258.7 153.8V90.18M264.95 153.8V89.7M267.45 153.8V89.89M268.7 153.8V90M271.2 153.8V90.54M272.45 153.8V90.54M273.7 153.8V90.09M274.95 153.8V90.45M276.2 153.8V90.45M277.45 153.8V90.11M279.95 153.8V90.67M281.2 153.8V90.7M283.7 153.8V90.28M286.2 153.8V90.78M287.45 153.8V90.64M289.95 153.8V90.75M292.45 153.8V90.47M293.7 153.8V90.52M296.2 153.8V90.66M297.45 153.8V90.58M298.7 153.8V90.74M299.95 153.8V90.74M302.45 153.8V90.87M303.7 153.8V90.9M307.45 153.8V90.57M308.7 153.8V90.79M309.95 153.8V90.79M316.2 153.8V91.47M321.2 153.8V91.66M326.2 153.8V91.35M328.7 153.8V91.44M332.45 153.8V92.08M336.2 153.8V91.98M341.2 153.8V92.2M342.45 153.8V92.47M343.7 153.8V92.71M346.2 153.8V92.54M347.45 153.8V92.74M349.95 153.8V92.62M351.2 153.8V93.26M354.95 153.8V93.13M356.2 153.8V93.13M357.45 153.8V93.11M358.7 153.8V93.11M359.95 153.8V93.05M363.7 153.8V93.28M366.2 153.8V93.83M371.2 153.8V93.95M372.45 153.8V94.37M374.95 153.8V94.45M376.2 153.8V94.45M378.7 153.8V95.22M382.45 153.8V95.3M384.95 153.8V95.43M386.2 153.8V95.96M388.7 153.8V96.12M389.95 153.8V96.4M392.45 153.8V96.93M396.2 153.8V97.92M397.45 153.8V97.92M398.7 153.8V97.79M399.95 153.8V98.61M406.2 153.8V99.23M407.45 153.8V100.13M411.2 153.8V101.33M412.45 153.8V101.58M414.95 153.8V102.19M416.2 153.8V102.49M419.95 153.8V105.06M421.2 153.8V105.92M428.7 153.8V135.44M429.95 153.8V148" stroke="#f2b0a0" stroke-width="0.22" opacity="0.55" fill="none"/>
<path d="M428.2 88h1.2v7.9h-1.2zM429.4 88h1.25v11.19h-1.25zM430.6 88h1.2v7.9h-1.2z" fill="#000000"/>
<path d="M431.9 133.4h0.9v20.4h-0.9z" fill="#6da6b4"/>
<path d="M432.8 145.9h0.7v7.9h-0.7z" fill="#8fba8a"/>
<path d="M434.5 88h1.6v51.32h-1.6z" fill="#e2a62f"/>
<path d="M434.5 139.32h1.6v14.48h-1.6z" fill="#f3d9a0"/>
<path d="M436.2 88h0.9v20.4h-0.9z" fill="#8a5aa8"/>
<line x1="55.8" y1="154" x2="439.7" y2="154" stroke="#333" stroke-width="0.5"/>
<rect x="56" y="154.3" width="383.7" height="9.4" fill="#74b3e4"/>
<text x="247.8" y="162.2" font-size="7.5" text-anchor="middle" textLength="46.8" lengthAdjust="spacingAndGlyphs" fill="#1b3a63">CUTANEOUS</text>
<text x="14.6" y="121" font-size="7.5" text-anchor="middle" transform="rotate(-90 14.6 121)" fill="#1c1c1c">% Signature</text>
<text x="52.9" y="90.8" font-size="7.3" text-anchor="end" fill="#1c1c1c">100</text>
<text x="52.9" y="107.2" font-size="7.3" text-anchor="end" fill="#1c1c1c">75</text>
<text x="52.9" y="123.6" font-size="7.3" text-anchor="end" fill="#1c1c1c">50</text>
<text x="52.9" y="140" font-size="7.3" text-anchor="end" fill="#1c1c1c">25</text>
<text x="52.9" y="156.4" font-size="7.3" text-anchor="end" fill="#1c1c1c">0</text>
<line x1="55.7" y1="87.9" x2="55.7" y2="154.2" stroke="#333" stroke-width="0.6"/>
<rect x="443.5" y="80.7" width="3.7" height="4.5" fill="#e2a62f"/>
<text x="448.9" y="85.45" font-size="6.9" fill="#1c1c1c">SBS40</text>
<rect x="443.5" y="87.65" width="3.7" height="4.5" fill="#d81b84"/>
<text x="448.9" y="92.4" font-size="6.9" fill="#1c1c1c">SBS39</text>
<rect x="443.5" y="94.6" width="3.7" height="4.5" fill="#000000"/>
<text x="448.9" y="99.35" font-size="6.9" fill="#1c1c1c">SBS38</text>
<rect x="443.5" y="101.55" width="3.7" height="4.5" fill="#f2a024"/>
<text x="448.9" y="106.3" font-size="6.9" fill="#1c1c1c">SBS32</text>
<rect x="443.5" y="108.5" width="3.7" height="4.5" fill="#f2dc2e"/>
<text x="448.9" y="113.25" font-size="6.9" fill="#1c1c1c">SBS21</text>
<rect x="443.5" y="115.45" width="3.7" height="4.5" fill="#8a5aa8"/>
<text x="448.9" y="120.2" font-size="6.9" fill="#1c1c1c">SBS18</text>
<rect x="443.5" y="122.4" width="3.7" height="4.5" fill="#d9c4c0"/>
<text x="448.9" y="127.15" font-size="6.9" fill="#1c1c1c">SBS45/55 (artifact)</text>
<rect x="443.5" y="129.35" width="3.7" height="4.5" fill="#1f9448"/>
<text x="448.9" y="134.1" font-size="6.9" fill="#1c1c1c">SBS3/8 (HRD)</text>
<rect x="443.5" y="136.3" width="3.7" height="4.5" fill="#f1ebd5"/>
<text x="448.9" y="141.05" font-size="6.9" fill="#1c1c1c">SBS1/5</text>
<rect x="443.5" y="143.25" width="3.7" height="4.5" fill="#6c68b4"/>
<text x="448.9" y="148" font-size="6.9" fill="#1c1c1c">SBS31/35 (Cisplatin)</text>
<rect x="443.5" y="150.2" width="3.7" height="4.5" fill="#4a86c8"/>
<text x="448.9" y="154.95" font-size="6.9" fill="#1c1c1c">SBS2/13 (APOBEC)</text>
<rect x="443.5" y="157.15" width="3.7" height="4.5" fill="#8fba8a"/>
<text x="448.9" y="161.9" font-size="6.9" fill="#1c1c1c">SBS17</text>
<rect x="443.5" y="164.1" width="3.7" height="4.5" fill="#e4705e"/>
<text x="448.9" y="168.85" font-size="6.9" fill="#1c1c1c">SBS7d (UVR)</text>
<rect x="443.5" y="171.05" width="3.7" height="4.5" fill="#e0343a"/>
<text x="448.9" y="175.8" font-size="6.9" fill="#1c1c1c">SBS7c (UVR)</text>
<rect x="443.5" y="178" width="3.7" height="4.5" fill="#c41f38"/>
<text x="448.9" y="182.75" font-size="6.9" fill="#1c1c1c">SBS7b (UVR)</text>
<rect x="443.5" y="184.95" width="3.7" height="4.5" fill="#7e1822"/>
<text x="448.9" y="189.7" font-size="6.9" fill="#1c1c1c">SBS7a (UVR)</text>
<text x="14.6" y="237" font-size="7.5" text-anchor="middle" transform="rotate(-90 14.6 237)" fill="#1c1c1c">Number of SNVs</text>
<text x="52.9" y="209.1" font-size="7.3" text-anchor="end" fill="#1c1c1c">100,000</text>
<line x1="54.3" y1="206.5" x2="55.8" y2="206.5" stroke="#333" stroke-width="0.5"/>
<text x="52.9" y="225" font-size="7.3" text-anchor="end" fill="#1c1c1c">75,000</text>
<line x1="54.3" y1="222.4" x2="55.8" y2="222.4" stroke="#333" stroke-width="0.5"/>
<text x="52.9" y="240.8" font-size="7.3" text-anchor="end" fill="#1c1c1c">50,000</text>
<line x1="54.3" y1="238.2" x2="55.8" y2="238.2" stroke="#333" stroke-width="0.5"/>
<text x="52.9" y="256.6" font-size="7.3" text-anchor="end" fill="#1c1c1c">25,000</text>
<line x1="54.3" y1="254" x2="55.8" y2="254" stroke="#333" stroke-width="0.5"/>
<text x="52.9" y="272.3" font-size="7.3" text-anchor="end" fill="#1c1c1c">0</text>
<line x1="54.3" y1="269.7" x2="55.8" y2="269.7" stroke="#333" stroke-width="0.5"/>
<g fill="#8a8a8a">
<rect x="56.2" y="203.7" width="1.23" height="66"/>
<rect x="57.6" y="249.7" width="1.23" height="20"/>
<rect x="59" y="226.7" width="1.23" height="43"/>
<rect x="60.4" y="240.7" width="1.23" height="29"/>
<rect x="61.8" y="255.7" width="1.23" height="14"/>
<rect x="63.2" y="252.7" width="1.23" height="17"/>
<rect x="64.6" y="213.7" width="1.23" height="56"/>
<rect x="66" y="265.7" width="1.23" height="4"/>
<rect x="67.4" y="266.88" width="1.23" height="2.82"/>
<rect x="68.8" y="253.2" width="1.23" height="16.5"/>
<rect x="70.2" y="265.7" width="1.23" height="4"/>
<rect x="71.6" y="263.1" width="1.23" height="6.6"/>
<rect x="73" y="265.7" width="1.23" height="4"/>
<rect x="74.4" y="261.3" width="1.23" height="8.4"/>
<rect x="75.8" y="266.7" width="1.23" height="3"/>
<rect x="77.2" y="268.7" width="1.23" height="1"/>
<rect x="78.6" y="264.93" width="1.23" height="4.77"/>
<rect x="80" y="265.08" width="1.23" height="4.62"/>
<rect x="81.4" y="265.1" width="1.23" height="4.6"/>
<rect x="82.8" y="267.13" width="1.23" height="2.57"/>
<rect x="84.2" y="258.2" width="1.23" height="11.5"/>
<rect x="85.6" y="268.75" width="1.23" height="0.95"/>
<rect x="87" y="265.3" width="1.23" height="4.4"/>
<rect x="88.4" y="268.74" width="1.23" height="0.96"/>
<rect x="89.8" y="268.58" width="1.23" height="1.12"/>
<rect x="91.2" y="265.9" width="1.23" height="3.8"/>
<rect x="92.6" y="268.78" width="1.23" height="0.92"/>
<rect x="94" y="267.87" width="1.23" height="1.83"/>
<rect x="95.4" y="267.97" width="1.23" height="1.73"/>
<rect x="96.8" y="266.16" width="1.23" height="3.54"/>
<rect x="98.2" y="267.71" width="1.23" height="1.99"/>
<rect x="99.6" y="267.22" width="1.23" height="2.48"/>
<rect x="101" y="267.81" width="1.23" height="1.89"/>
<rect x="102.4" y="267.16" width="1.23" height="2.54"/>
<rect x="103.8" y="267.98" width="1.23" height="1.72"/>
<rect x="105.2" y="268.49" width="1.23" height="1.21"/>
<rect x="106.6" y="265.44" width="1.23" height="4.26"/>
<rect x="108" y="265.48" width="1.23" height="4.22"/>
<rect x="109.4" y="264.7" width="1.23" height="5"/>
<rect x="110.8" y="267.04" width="1.23" height="2.66"/>
<rect x="112.2" y="259.2" width="1.23" height="10.5"/>
<rect x="113.6" y="268.59" width="1.23" height="1.11"/>
<rect x="115" y="232.2" width="1.23" height="37.5"/>
<rect x="116.4" y="244.2" width="1.23" height="25.5"/>
<rect x="117.8" y="263.7" width="1.23" height="6"/>
<rect x="119.2" y="268.1" width="1.23" height="1.6"/>
<rect x="120.6" y="265.7" width="1.23" height="4"/>
<rect x="122" y="268.11" width="1.23" height="1.59"/>
<rect x="123.4" y="263.7" width="1.23" height="6"/>
<rect x="124.8" y="265.96" width="1.23" height="3.74"/>
<rect x="126.2" y="264.7" width="1.23" height="5"/>
<rect x="127.6" y="261.7" width="1.23" height="8"/>
<rect x="129" y="265.44" width="1.23" height="4.26"/>
<rect x="130.4" y="260.2" width="1.23" height="9.5"/>
<rect x="131.8" y="263.7" width="1.23" height="6"/>
<rect x="133.2" y="267.94" width="1.23" height="1.76"/>
<rect x="134.6" y="265.7" width="1.23" height="4"/>
<rect x="136" y="266.9" width="1.23" height="2.8"/>
<rect x="137.4" y="266.04" width="1.23" height="3.66"/>
<rect x="138.8" y="268.26" width="1.23" height="1.44"/>
<rect x="140.2" y="268.6" width="1.23" height="1.1"/>
<rect x="141.6" y="268.07" width="1.23" height="1.63"/>
<rect x="143" y="264.71" width="1.23" height="4.99"/>
<rect x="144.4" y="266.09" width="1.23" height="3.61"/>
<rect x="145.8" y="268.56" width="1.23" height="1.14"/>
<rect x="147.2" y="268.3" width="1.23" height="1.4"/>
<rect x="148.6" y="268.57" width="1.23" height="1.13"/>
<rect x="150" y="268.62" width="1.23" height="1.08"/>
<rect x="151.4" y="265.82" width="1.23" height="3.88"/>
<rect x="152.8" y="268.45" width="1.23" height="1.25"/>
<rect x="154.2" y="267.15" width="1.23" height="2.55"/>
<rect x="155.6" y="267.64" width="1.23" height="2.06"/>
<rect x="157" y="268.42" width="1.23" height="1.28"/>
<rect x="158.4" y="266.2" width="1.23" height="3.5"/>
<rect x="159.8" y="268.52" width="1.23" height="1.18"/>
<rect x="161.2" y="266.7" width="1.23" height="3"/>
<rect x="162.6" y="268.54" width="1.23" height="1.16"/>
<rect x="164" y="267.73" width="1.23" height="1.97"/>
<rect x="165.4" y="268.36" width="1.23" height="1.34"/>
<rect x="166.8" y="268.22" width="1.23" height="1.48"/>
<rect x="168.2" y="264.55" width="1.23" height="5.15"/>
<rect x="169.6" y="265.73" width="1.23" height="3.97"/>
<rect x="171" y="268.12" width="1.23" height="1.58"/>
<rect x="172.4" y="265.17" width="1.23" height="4.53"/>
<rect x="173.8" y="268.36" width="1.23" height="1.34"/>
</g>
<line x1="56" y1="269.85" x2="175.8" y2="269.85" stroke="#333" stroke-width="0.6"/>
<g fill="#8a8a8a">
<rect x="186.3" y="258.7" width="1.23" height="11"/>
<rect x="187.7" y="262.2" width="1.23" height="7.5"/>
<rect x="189.09" y="265.76" width="1.23" height="3.94"/>
<rect x="190.49" y="257.7" width="1.23" height="12"/>
<rect x="191.88" y="268.36" width="1.23" height="1.34"/>
<rect x="193.28" y="263.7" width="1.23" height="6"/>
<rect x="194.67" y="267.84" width="1.23" height="1.86"/>
<rect x="196.06" y="260.2" width="1.23" height="9.5"/>
<rect x="197.46" y="265.63" width="1.23" height="4.07"/>
<rect x="198.86" y="266.24" width="1.23" height="3.46"/>
<rect x="200.25" y="266.51" width="1.23" height="3.19"/>
<rect x="201.65" y="265.85" width="1.23" height="3.85"/>
<rect x="203.04" y="265.2" width="1.23" height="4.5"/>
<rect x="204.44" y="267.17" width="1.23" height="2.53"/>
<rect x="205.83" y="268.18" width="1.23" height="1.52"/>
<rect x="207.23" y="263.7" width="1.23" height="6"/>
<rect x="208.62" y="268.35" width="1.23" height="1.35"/>
<rect x="210.02" y="264.71" width="1.23" height="4.99"/>
<rect x="211.41" y="268.34" width="1.23" height="1.36"/>
<rect x="212.81" y="259.2" width="1.23" height="10.5"/>
<rect x="214.2" y="267.65" width="1.23" height="2.05"/>
<rect x="215.6" y="267.37" width="1.23" height="2.33"/>
<rect x="216.99" y="264.56" width="1.23" height="5.14"/>
<rect x="218.39" y="268.39" width="1.23" height="1.31"/>
<rect x="219.78" y="264.7" width="1.23" height="5"/>
<rect x="221.18" y="262.7" width="1.23" height="7"/>
<rect x="222.57" y="266.86" width="1.23" height="2.84"/>
<rect x="223.97" y="268.34" width="1.23" height="1.36"/>
<rect x="225.36" y="263.35" width="1.23" height="6.35"/>
<rect x="226.75" y="263.73" width="1.23" height="5.97"/>
<rect x="228.15" y="262.2" width="1.23" height="7.5"/>
<rect x="229.55" y="267.32" width="1.23" height="2.38"/>
<rect x="230.94" y="268.27" width="1.23" height="1.43"/>
<rect x="232.34" y="261.7" width="1.23" height="8"/>
<rect x="233.73" y="256.7" width="1.23" height="13"/>
<rect x="235.12" y="268.22" width="1.23" height="1.48"/>
<rect x="236.52" y="265.76" width="1.23" height="3.94"/>
<rect x="237.92" y="261.7" width="1.23" height="8"/>
<rect x="239.31" y="268.21" width="1.23" height="1.49"/>
<rect x="240.71" y="256.7" width="1.23" height="13"/>
<rect x="242.1" y="267.45" width="1.23" height="2.25"/>
<rect x="243.5" y="261.7" width="1.23" height="8"/>
<rect x="244.89" y="264.2" width="1.23" height="5.5"/>
<rect x="246.29" y="267.11" width="1.23" height="2.59"/>
<rect x="247.68" y="267.54" width="1.23" height="2.16"/>
<rect x="249.08" y="268.43" width="1.23" height="1.27"/>
<rect x="250.47" y="265.62" width="1.23" height="4.08"/>
<rect x="251.87" y="263.72" width="1.23" height="5.98"/>
<rect x="253.26" y="263.65" width="1.23" height="6.05"/>
<rect x="254.66" y="263.7" width="1.23" height="6"/>
<rect x="256.05" y="262.2" width="1.23" height="7.5"/>
<rect x="257.44" y="267.65" width="1.23" height="2.05"/>
<rect x="258.84" y="264.7" width="1.23" height="5"/>
<rect x="260.24" y="266.01" width="1.23" height="3.69"/>
<rect x="261.63" y="268.36" width="1.23" height="1.34"/>
<rect x="263.02" y="268.1" width="1.23" height="1.6"/>
<rect x="264.42" y="267.66" width="1.23" height="2.04"/>
<rect x="265.81" y="266.99" width="1.23" height="2.71"/>
<rect x="267.21" y="265.09" width="1.23" height="4.61"/>
<rect x="268.61" y="267.06" width="1.23" height="2.64"/>
<rect x="270" y="268.46" width="1.23" height="1.24"/>
<rect x="271.39" y="265.02" width="1.23" height="4.68"/>
<rect x="272.79" y="267.4" width="1.23" height="2.3"/>
<rect x="274.19" y="266.98" width="1.23" height="2.72"/>
<rect x="275.58" y="268.15" width="1.23" height="1.55"/>
<rect x="276.98" y="264.7" width="1.23" height="5"/>
<rect x="278.37" y="267.6" width="1.23" height="2.1"/>
<rect x="279.76" y="265.44" width="1.23" height="4.26"/>
<rect x="281.16" y="268.41" width="1.23" height="1.29"/>
<rect x="282.56" y="260.2" width="1.23" height="9.5"/>
<rect x="283.95" y="268.27" width="1.23" height="1.43"/>
<rect x="285.35" y="262.7" width="1.23" height="7"/>
<rect x="286.74" y="268.48" width="1.23" height="1.22"/>
<rect x="288.13" y="264.7" width="1.23" height="5"/>
<rect x="289.53" y="267.8" width="1.23" height="1.9"/>
</g>
<line x1="186.1" y1="269.85" x2="290.8" y2="269.85" stroke="#333" stroke-width="0.6"/>
<g fill="#8a8a8a">
<rect x="301.5" y="243" width="1.23" height="26.7"/>
<rect x="302.9" y="263.7" width="1.23" height="6"/>
<rect x="304.3" y="246" width="1.23" height="23.7"/>
<rect x="305.7" y="255.7" width="1.23" height="14"/>
<rect x="307.1" y="249.2" width="1.23" height="20.5"/>
<rect x="308.5" y="265.7" width="1.23" height="4"/>
<rect x="309.9" y="267.2" width="1.23" height="2.5"/>
<rect x="311.3" y="269.36" width="1.23" height="0.34"/>
<rect x="312.7" y="268.81" width="1.23" height="0.89"/>
<rect x="314.1" y="269.4" width="1.23" height="0.3"/>
<rect x="315.5" y="269.08" width="1.23" height="0.62"/>
<rect x="316.9" y="269.36" width="1.23" height="0.34"/>
<rect x="318.3" y="269.31" width="1.23" height="0.39"/>
<rect x="319.7" y="269.19" width="1.23" height="0.51"/>
<rect x="321.1" y="268.64" width="1.23" height="1.06"/>
<rect x="322.5" y="268.99" width="1.23" height="0.71"/>
<rect x="323.9" y="269.43" width="1.23" height="0.27"/>
<rect x="325.3" y="269.32" width="1.23" height="0.38"/>
<rect x="326.7" y="269.4" width="1.23" height="0.3"/>
<rect x="328.1" y="268.59" width="1.23" height="1.11"/>
<rect x="329.5" y="268.69" width="1.23" height="1.01"/>
<rect x="330.9" y="268.7" width="1.23" height="1"/>
<rect x="332.3" y="268.66" width="1.23" height="1.04"/>
<rect x="333.7" y="268.79" width="1.23" height="0.91"/>
<rect x="335.1" y="268.45" width="1.23" height="1.25"/>
<rect x="336.5" y="268.72" width="1.23" height="0.98"/>
<rect x="337.9" y="269.34" width="1.23" height="0.36"/>
<rect x="339.3" y="268.62" width="1.23" height="1.08"/>
<rect x="340.7" y="269.13" width="1.23" height="0.57"/>
<rect x="342.1" y="268.78" width="1.23" height="0.92"/>
<rect x="343.5" y="269.04" width="1.23" height="0.66"/>
<rect x="344.9" y="269.19" width="1.23" height="0.51"/>
<rect x="346.3" y="269.25" width="1.23" height="0.45"/>
<rect x="347.7" y="269.19" width="1.23" height="0.51"/>
<rect x="349.1" y="269.3" width="1.23" height="0.4"/>
<rect x="350.5" y="269.41" width="1.23" height="0.29"/>
<rect x="351.9" y="268.67" width="1.23" height="1.03"/>
<rect x="353.3" y="268.71" width="1.23" height="0.99"/>
<rect x="354.7" y="268.38" width="1.23" height="1.32"/>
<rect x="356.1" y="268.87" width="1.23" height="0.83"/>
<rect x="357.5" y="269.06" width="1.23" height="0.64"/>
<rect x="358.9" y="268.79" width="1.23" height="0.91"/>
<rect x="360.3" y="269.4" width="1.23" height="0.3"/>
<rect x="361.7" y="268.9" width="1.23" height="0.8"/>
<rect x="363.1" y="269.18" width="1.23" height="0.52"/>
<rect x="364.5" y="269.38" width="1.23" height="0.32"/>
<rect x="365.9" y="269.37" width="1.23" height="0.33"/>
<rect x="367.3" y="269.09" width="1.23" height="0.61"/>
<rect x="368.7" y="269.34" width="1.23" height="0.36"/>
<rect x="370.1" y="269.16" width="1.23" height="0.54"/>
<rect x="371.5" y="268.99" width="1.23" height="0.71"/>
<rect x="372.9" y="269.23" width="1.23" height="0.47"/>
<rect x="374.3" y="269.4" width="1.23" height="0.3"/>
<rect x="375.7" y="269.13" width="1.23" height="0.57"/>
<rect x="377.1" y="269.35" width="1.23" height="0.35"/>
<rect x="378.5" y="269.35" width="1.23" height="0.35"/>
<rect x="379.9" y="269.37" width="1.23" height="0.33"/>
<rect x="381.3" y="269.25" width="1.23" height="0.45"/>
<rect x="382.7" y="269.42" width="1.23" height="0.28"/>
<rect x="384.1" y="268.93" width="1.23" height="0.77"/>
<rect x="385.5" y="268.44" width="1.23" height="1.26"/>
<rect x="386.9" y="264.2" width="1.23" height="5.5"/>
<rect x="388.3" y="268.83" width="1.23" height="0.87"/>
<rect x="389.7" y="268.48" width="1.23" height="1.22"/>
<rect x="391.1" y="269.43" width="1.23" height="0.27"/>
<rect x="392.5" y="269.4" width="1.23" height="0.3"/>
<rect x="393.9" y="268.7" width="1.23" height="1"/>
<rect x="395.3" y="268.64" width="1.23" height="1.06"/>
<rect x="396.7" y="268.95" width="1.23" height="0.75"/>
<rect x="398.1" y="269.39" width="1.23" height="0.31"/>
<rect x="399.5" y="269.21" width="1.23" height="0.49"/>
<rect x="400.9" y="268.59" width="1.23" height="1.11"/>
<rect x="402.3" y="268.56" width="1.23" height="1.14"/>
<rect x="403.7" y="268.7" width="1.23" height="1"/>
<rect x="405.1" y="269.37" width="1.23" height="0.33"/>
<rect x="406.5" y="268.62" width="1.23" height="1.08"/>
<rect x="407.9" y="269.25" width="1.23" height="0.45"/>
<rect x="409.3" y="268.84" width="1.23" height="0.86"/>
<rect x="410.7" y="269.4" width="1.23" height="0.3"/>
<rect x="412.1" y="268.41" width="1.23" height="1.29"/>
<rect x="413.5" y="268.99" width="1.23" height="0.71"/>
<rect x="414.9" y="268.83" width="1.23" height="0.87"/>
<rect x="416.3" y="269.36" width="1.23" height="0.34"/>
<rect x="417.7" y="267.7" width="1.23" height="2"/>
<rect x="419.1" y="269.02" width="1.23" height="0.68"/>
<rect x="420.5" y="264.2" width="1.23" height="5.5"/>
<rect x="421.9" y="269.26" width="1.23" height="0.44"/>
<rect x="423.3" y="268.82" width="1.23" height="0.88"/>
<rect x="424.7" y="269.27" width="1.23" height="0.43"/>
<rect x="426.1" y="269.31" width="1.23" height="0.39"/>
<rect x="427.5" y="269.39" width="1.23" height="0.31"/>
<rect x="428.9" y="268.88" width="1.23" height="0.82"/>
<rect x="430.3" y="269.41" width="1.23" height="0.29"/>
<rect x="431.7" y="269.36" width="1.23" height="0.34"/>
<rect x="433.1" y="269.42" width="1.23" height="0.28"/>
<rect x="434.5" y="268.94" width="1.23" height="0.76"/>
<rect x="435.9" y="269.05" width="1.23" height="0.65"/>
<rect x="437.3" y="269.07" width="1.23" height="0.63"/>
<rect x="438.7" y="269.43" width="1.23" height="0.27"/>
<rect x="440.1" y="269.18" width="1.23" height="0.52"/>
<rect x="441.5" y="269.27" width="1.23" height="0.43"/>
<rect x="442.9" y="269.42" width="1.23" height="0.28"/>
</g>
<line x1="301.3" y1="269.85" x2="444.2" y2="269.85" stroke="#333" stroke-width="0.6"/>
<line x1="56.1" y1="203.6" x2="56.1" y2="270" stroke="#222" stroke-width="1"/>
<rect x="450.2" y="235.5" width="3.6" height="4.5" fill="#8a8a8a"/>
<text x="454.9" y="240.2" font-size="6.9" fill="#1c1c1c">SNVs</text>
<rect x="55.75" y="280" width="120.15" height="66.3" fill="#f1ebd5"/>
<path d="M55.75 302.34h1.4v43.96h-1.4zM57.15 303.85h1.4v42.45h-1.4zM58.55 302.99h1.4v43.31h-1.4zM59.95 304.82h1.4v41.48h-1.4zM61.35 311.19h1.4v35.11h-1.4zM62.75 308.65h1.4v37.65h-1.4zM64.15 315.26h1.4v31.04h-1.4zM65.55 319.75h1.4v26.55h-1.4zM66.95 320.01h1.4v26.29h-1.4zM68.35 325.21h1.4v21.09h-1.4zM69.75 324.24h1.4v22.06h-1.4zM71.15 326.49h1.4v19.81h-1.4zM72.55 331.42h1.4v14.88h-1.4zM73.95 329.92h1.4v16.38h-1.4zM75.35 332.49h1.4v13.81h-1.4zM76.75 334.71h1.4v11.59h-1.4zM78.15 333.76h1.4v12.54h-1.4zM79.55 335.35h1.4v10.95h-1.4zM80.95 336.14h1.4v10.16h-1.4zM82.35 336.33h1.4v9.97h-1.4zM83.75 337.75h1.4v8.55h-1.4zM85.15 336.9h1.4v9.4h-1.4zM86.55 338.26h1.4v8.04h-1.4zM87.95 337.79h1.4v8.51h-1.4z" fill="#962428"/>
<path d="M55.75 288.07h1.4v14.27h-1.4zM57.15 288.79h1.4v15.06h-1.4zM58.55 296.15h1.4v6.84h-1.4zM59.95 293.6h1.4v11.22h-1.4zM61.35 295h1.4v16.19h-1.4zM62.75 301.15h1.4v7.5h-1.4zM64.15 300.2h1.4v15.06h-1.4zM65.55 309.08h1.4v10.66h-1.4zM66.95 310.12h1.4v9.89h-1.4zM68.35 312.03h1.4v13.18h-1.4zM69.75 313.82h1.4v10.41h-1.4zM71.15 317.97h1.4v8.52h-1.4zM72.55 320.28h1.4v11.13h-1.4zM73.95 323.02h1.4v6.9h-1.4zM75.35 322.83h1.4v9.66h-1.4zM76.75 325.94h1.4v8.76h-1.4zM78.15 326.47h1.4v7.29h-1.4zM79.55 327.33h1.4v8.01h-1.4zM80.95 329.49h1.4v6.65h-1.4zM82.35 329.89h1.4v6.45h-1.4zM83.75 328.58h1.4v9.17h-1.4zM85.15 329.63h1.4v7.27h-1.4zM86.55 331.09h1.4v7.17h-1.4zM87.95 334.59h1.4v3.2h-1.4z" fill="#d0262f"/>
<path d="M55.75 283.47h1.4v4.61h-1.4zM57.15 285.35h1.4v3.44h-1.4zM58.55 290.08h1.4v6.07h-1.4zM59.95 291.28h1.4v2.32h-1.4zM61.35 292.53h1.4v2.47h-1.4zM62.75 294.94h1.4v6.21h-1.4zM64.15 297.97h1.4v2.24h-1.4zM65.55 299.22h1.4v9.86h-1.4zM66.95 304.77h1.4v5.35h-1.4zM68.35 309.73h1.4v2.3h-1.4zM69.75 311.98h1.4v1.84h-1.4zM71.15 314.58h1.4v3.39h-1.4zM72.55 318.19h1.4v2.1h-1.4zM73.95 319.86h1.4v3.16h-1.4zM75.35 321.55h1.4v1.27h-1.4zM76.75 322.98h1.4v2.96h-1.4zM78.15 323.38h1.4v3.09h-1.4zM79.55 324.14h1.4v3.19h-1.4zM80.95 325.21h1.4v4.28h-1.4zM82.35 326.83h1.4v3.06h-1.4zM83.75 326.48h1.4v2.11h-1.4zM85.15 328.02h1.4v1.6h-1.4zM86.55 329.94h1.4v1.15h-1.4zM87.95 333.12h1.4v1.46h-1.4z" fill="#e5443b"/>
<path d="M55.75 282.07h1.4v1.39h-1.4zM57.15 284.37h1.4v0.97h-1.4zM58.55 287.84h1.4v2.25h-1.4zM59.95 290.2h1.4v1.08h-1.4zM61.35 292.12h1.4v0.41h-1.4zM62.75 292.47h1.4v2.47h-1.4zM64.15 297.13h1.4v0.83h-1.4zM65.55 298.42h1.4v0.8h-1.4zM66.95 303.17h1.4v1.6h-1.4zM68.35 308.66h1.4v1.07h-1.4zM69.75 311.8h1.4v0.18h-1.4zM71.15 314h1.4v0.57h-1.4zM72.55 317.16h1.4v1.03h-1.4zM73.95 318.68h1.4v1.18h-1.4zM75.35 321.09h1.4v0.46h-1.4zM76.75 322.82h1.4v0.16h-1.4zM78.15 322.88h1.4v0.5h-1.4zM79.55 323.43h1.4v0.71h-1.4zM80.95 324.86h1.4v0.35h-1.4zM82.35 325.08h1.4v1.75h-1.4zM83.75 325.7h1.4v0.77h-1.4zM85.15 327.91h1.4v0.11h-1.4zM86.55 329.67h1.4v0.27h-1.4zM87.95 332.46h1.4v0.67h-1.4z" fill="#ee7a68"/>
<path d="M76.95 280h0.9v12.27h-0.9zM164.9 280h1.5v9.28h-1.5z" fill="#b4c6d6"/>
<path d="M84.95 280h1.2v36.07h-1.2z" fill="#d81b84"/>
<path d="M87.95 313.81h0.95v17.24h-0.95z" fill="#6fa8b0"/>
<path d="M89.35 280h1.4v31.82h-1.4zM90.75 280h1.4v29.84h-1.4zM92.15 280h1.4v29.84h-1.4zM93.55 280h1.4v27.18h-1.4zM94.95 280h1.4v23.54h-1.4zM96.35 280h1.4v21.22h-1.4zM97.75 280h1.4v19.23h-1.4zM99.15 280h1.4v19.23h-1.4zM100.55 280h1.4v15.91h-1.4zM101.95 280h1.4v13.53h-1.4zM103.35 280h1.4v11.6h-1.4zM104.75 280h1.4v11.6h-1.4zM106.15 280h1.4v11.6h-1.4zM107.55 280h1.4v10.61h-1.4zM108.95 280h1.4v10.61h-1.4zM110.35 280h1.4v8.62h-1.4zM111.75 280h1.4v8.62h-1.4zM113.15 280h1.4v8.62h-1.4z" fill="#000000"/>
<path d="M107.15 339.67h0.9v6.63h-0.9z" fill="#6c68b4"/>
<path d="M112.45 324.42h1.1v21.88h-1.1z" fill="#79b3a4"/>
<path d="M115.5 280h1.8v33.81h-1.8z" fill="#f3cf3a"/>
<path d="M117.8 326.41h0.9v5.97h-0.9z" fill="#5b3e78"/>
<path d="M117.8 332.38h0.95v13.92h-0.95zM118.75 333.04h1.4v13.26h-1.4zM120.15 334.03h1.4v12.27h-1.4zM121.55 335.03h1.4v11.27h-1.4zM122.95 336.36h1.4v9.95h-1.4zM124.35 337.68h1.4v8.62h-1.4zM125.75 338.68h1.4v7.62h-1.4zM127.15 339.67h1.4v6.63h-1.4z" fill="#4a86c8"/>
<path d="M126.2 280h1.1v40.44h-1.1z" fill="#f2a024"/>
<path d="M128.55 280h1.4v59.39h-1.4zM129.95 280h1.4v58.52h-1.4zM131.35 280h1.4v57.65h-1.4zM132.75 280h1.4v56.77h-1.4zM134.15 280h1.4v55.9h-1.4zM135.55 280h1.4v55.03h-1.4zM136.95 280h1.4v54.16h-1.4zM138.35 280h1.4v53.29h-1.4zM139.75 280h1.4v52.41h-1.4zM141.15 280h1.4v51.54h-1.4zM142.55 280h1.4v50.67h-1.4zM143.95 280h1.4v49.8h-1.4zM145.35 280h1.4v48.93h-1.4zM146.75 280h1.4v48.05h-1.4zM148.15 280h1.4v47.18h-1.4zM149.55 280h1.4v46.31h-1.4zM150.95 280h1.4v45.44h-1.4zM152.35 280h1.4v44.57h-1.4zM153.75 280h1.4v43.69h-1.4zM155.15 280h1.4v42.82h-1.4zM156.55 280h1.4v41.95h-1.4zM157.95 280h1.4v41.08h-1.4zM159.35 280h1.4v40.21h-1.4zM160.75 280h1.4v39.33h-1.4z" fill="#e2a62f"/>
<path d="M57.15 346.3V282.07M58.55 346.3V284.37M59.95 346.3V287.84M61.35 346.3V290.2M62.75 346.3V292.12M64.15 346.3V292.47M65.55 346.3V297.13M66.95 346.3V298.42M68.35 346.3V303.17M69.75 346.3V308.66M71.15 346.3V311.8M72.55 346.3V314M73.95 346.3V317.16M75.35 346.3V318.68M76.75 346.3V321.09M78.15 346.3V322.82M79.55 346.3V322.88M80.95 346.3V323.43M82.35 346.3V324.86M83.75 346.3V325.08M85.15 346.3V325.7M86.55 346.3V327.91M87.95 346.3V329.67M89.35 346.3V332.46" stroke="#f6c9b8" stroke-width="0.3" opacity="0.6" fill="none"/>
<line x1="55.6" y1="346.6" x2="176" y2="346.6" stroke="#333" stroke-width="0.5"/>
<rect x="55.75" y="347" width="120.15" height="9.6" fill="#bb6fc4"/>
<text x="115.8" y="354.6" font-size="7.5" text-anchor="middle" textLength="25" lengthAdjust="spacingAndGlyphs" fill="#3d1a4a">ACRAL</text>
<rect x="186.1" y="280" width="104.6" height="66.3" fill="#f1ebd5"/>
<path d="M186.1 310.04h1.4v36.26h-1.4zM187.5 319.56h1.4v26.74h-1.4zM188.89 317.01h1.4v29.29h-1.4zM190.28 321.83h1.4v24.47h-1.4zM191.68 323.78h1.4v22.52h-1.4zM193.07 327.92h1.4v18.38h-1.4zM194.47 326.87h1.4v19.43h-1.4zM195.87 330.07h1.4v16.23h-1.4zM197.26 333.3h1.4v13h-1.4zM198.66 335.39h1.4v10.91h-1.4zM200.05 337.11h1.4v9.19h-1.4zM201.44 337.39h1.4v8.91h-1.4zM202.84 337.61h1.4v8.69h-1.4zM204.23 339.93h1.4v6.37h-1.4zM205.63 340.37h1.4v5.93h-1.4zM207.03 341.71h1.4v4.59h-1.4zM208.42 341.75h1.4v4.55h-1.4z" fill="#962428"/>
<path d="M186.1 289.7h1.4v20.34h-1.4zM187.5 298.43h1.4v21.14h-1.4zM188.89 306.38h1.4v10.63h-1.4zM190.28 308.55h1.4v13.27h-1.4zM191.68 312.81h1.4v10.97h-1.4zM193.07 315.4h1.4v12.53h-1.4zM194.47 315.69h1.4v11.19h-1.4zM195.87 319.6h1.4v10.47h-1.4zM197.26 318.67h1.4v14.63h-1.4zM198.66 321.2h1.4v14.19h-1.4zM200.05 327.44h1.4v9.67h-1.4zM201.44 328.46h1.4v8.93h-1.4zM202.84 330.81h1.4v6.8h-1.4zM204.23 332.43h1.4v7.5h-1.4zM205.63 335.05h1.4v5.32h-1.4zM207.03 336.34h1.4v5.37h-1.4zM208.42 337.24h1.4v4.51h-1.4z" fill="#d0262f"/>
<path d="M186.1 282.39h1.4v7.31h-1.4zM187.5 296.15h1.4v2.28h-1.4zM188.89 305.9h1.4v0.48h-1.4zM190.28 306.84h1.4v1.71h-1.4zM191.68 312.07h1.4v0.74h-1.4zM193.07 314.47h1.4v0.93h-1.4zM194.47 315.13h1.4v0.56h-1.4zM195.87 316.83h1.4v2.77h-1.4zM197.26 317.89h1.4v0.78h-1.4zM198.66 319.84h1.4v1.37h-1.4zM200.05 324.09h1.4v3.35h-1.4zM201.44 326.76h1.4v1.7h-1.4zM202.84 329.5h1.4v1.32h-1.4zM204.23 331.39h1.4v1.03h-1.4zM205.63 333.28h1.4v1.77h-1.4zM207.03 335.2h1.4v1.15h-1.4zM208.42 336.58h1.4v0.66h-1.4z" fill="#e5443b"/>
<path d="M186.1 282h1.4v0.39h-1.4zM187.5 295.26h1.4v0.88h-1.4zM188.89 305.71h1.4v0.19h-1.4zM190.28 306.7h1.4v0.14h-1.4zM191.68 311.89h1.4v0.18h-1.4zM193.07 314.24h1.4v0.23h-1.4zM194.47 314.99h1.4v0.14h-1.4zM195.87 316.64h1.4v0.19h-1.4zM197.26 317.73h1.4v0.16h-1.4zM198.66 319.15h1.4v0.69h-1.4zM200.05 323.81h1.4v0.28h-1.4zM201.44 326.42h1.4v0.34h-1.4zM202.84 329.18h1.4v0.32h-1.4zM204.23 331.05h1.4v0.34h-1.4zM205.63 333.18h1.4v0.1h-1.4zM207.03 335.1h1.4v0.09h-1.4zM208.42 336.19h1.4v0.38h-1.4z" fill="#ee7a68"/>
<path d="M191.68 280h1.4v12.27h-1.4zM195.87 280h1.4v9.95h-1.4zM200.05 280h1.4v12.27h-1.4zM201.44 280h1.4v17.24h-1.4zM205.63 280h1.4v11.27h-1.4zM207.03 280h1.4v15.91h-1.4zM209.81 280h1.4v24.8h-1.4zM211.21 280h1.4v22.28h-1.4zM212.6 280h1.4v19.23h-1.4zM214 280h1.4v15.91h-1.4zM215.39 280h1.4v15.91h-1.4zM216.79 280h1.4v12.27h-1.4zM218.19 280h1.4v9.28h-1.4zM219.58 280h1.4v9.28h-1.4zM220.97 280h1.4v9.28h-1.4zM222.37 280h1.4v9.28h-1.4zM223.76 280h1.4v7.96h-1.4zM225.16 280h1.4v7.96h-1.4zM226.56 280h0.75v7.96h-0.75z" fill="#000000"/>
<path d="M208 280h1.7v44.75h-1.7zM230.3 280h1.6v46.41h-1.6zM241.2 280h1.4v55.19h-1.4zM242.6 280h1.4v54.11h-1.4zM243.99 280h1.4v53.03h-1.4zM245.39 280h1.4v51.96h-1.4zM246.78 280h1.4v50.88h-1.4zM248.18 280h1.4v49.8h-1.4zM249.57 280h1.4v48.72h-1.4zM250.97 280h1.4v47.65h-1.4zM252.36 280h1.4v46.57h-1.4zM253.76 280h1.4v45.49h-1.4zM255.15 280h1.4v44.41h-1.4zM256.55 280h1.4v43.34h-1.4zM257.94 280h1.4v42.26h-1.4zM259.34 280h1.4v41.18h-1.4zM260.73 280h1.4v40.1h-1.4z" fill="#e2a62f"/>
<path d="M227.6 326.08h3.1v20.22h-3.1z" fill="#8fba8a"/>
<path d="M232 301.22h1.4v45.08h-1.4z" fill="#6c68b4"/>
<path d="M233.93 280h1.4v43.76h-1.4zM235.33 280h1.4v27.18h-1.4zM236.72 280h1.4v23.54h-1.4zM238.12 280h1.4v19.89h-1.4z" fill="#1f9448"/>
<path d="M239.8 336.02h1.2v10.28h-1.2z" fill="#4a86c8"/>
<path d="M274.1 280h1.4v7.96h-1.4z" fill="#d6d0c8"/>
<path d="M187.5 346.3V282M188.89 346.3V295.26M190.28 346.3V305.71M191.68 346.3V306.7M193.08 346.3V311.89M194.47 346.3V314.24M195.87 346.3V314.99M197.26 346.3V316.64M198.66 346.3V317.73M200.05 346.3V319.15M201.44 346.3V323.81M202.84 346.3V326.42M204.24 346.3V329.18M205.63 346.3V331.05M207.03 346.3V333.18M208.42 346.3V335.1M209.81 346.3V336.19" stroke="#f6c9b8" stroke-width="0.3" opacity="0.6" fill="none"/>
<line x1="186" y1="346.6" x2="290.8" y2="346.6" stroke="#333" stroke-width="0.5"/>
<rect x="186.1" y="347" width="104.6" height="9.6" fill="#86c79a"/>
<text x="238.5" y="354.6" font-size="7.5" text-anchor="middle" textLength="37" lengthAdjust="spacingAndGlyphs" fill="#1e4a2c">MUCOSAL</text>
<rect x="301.5" y="280" width="142.7" height="66.3" fill="#f1ebd5"/>
<path d="M301.5 307.85h1.4v38.45h-1.4zM302.9 331.71h1.4v14.59h-1.4zM304.3 323.1h1.4v23.21h-1.4zM305.7 336.36h1.4v9.95h-1.4zM307.1 326.41h1.4v19.89h-1.4zM308.5 329.73h1.4v16.58h-1.4zM309.9 316.47h1.4v29.84h-1.4zM311.3 313.15h1.4v33.15h-1.4z" fill="#962428"/>
<path d="M301.5 286.13h1.4v21.72h-1.4zM302.9 291.38h1.4v40.34h-1.4zM304.3 289.48h1.4v33.61h-1.4zM305.7 295.14h1.4v41.22h-1.4zM307.1 295.9h1.4v30.51h-1.4zM308.5 301.49h1.4v28.24h-1.4zM309.9 303.54h1.4v12.93h-1.4zM311.3 306.63h1.4v6.52h-1.4z" fill="#d0262f"/>
<path d="M301.5 281.39h1.4v4.73h-1.4zM302.9 282.59h1.4v8.79h-1.4zM304.3 282.15h1.4v7.33h-1.4zM305.7 286.16h1.4v8.98h-1.4zM307.1 289.25h1.4v6.65h-1.4zM308.5 295.34h1.4v6.15h-1.4zM309.9 300.72h1.4v2.82h-1.4zM311.3 305.21h1.4v1.42h-1.4z" fill="#e5443b"/>
<path d="M301.5 280h1.4v1.39h-1.4zM302.9 280h1.4v2.59h-1.4zM304.3 280h1.4v2.15h-1.4zM305.7 283.51h1.4v2.64h-1.4zM307.1 287.29h1.4v1.96h-1.4zM308.5 293.53h1.4v1.81h-1.4zM309.9 299.89h1.4v0.83h-1.4zM311.3 304.8h1.4v0.42h-1.4z" fill="#ee7a68"/>
<path d="M312.6 280h1.3v29.17h-1.3zM313.9 280h1.3v7.29h-1.3z" fill="#000000"/>
<path d="M315 287.29h1.2v32.49h-1.2z" fill="#e2a62f"/>
<line x1="301.4" y1="346.6" x2="444.3" y2="346.6" stroke="#333" stroke-width="0.5"/>
<rect x="301.5" y="347" width="142.7" height="9.6" fill="#dba324"/>
<text x="373" y="354.6" font-size="7.5" text-anchor="middle" textLength="24.5" lengthAdjust="spacingAndGlyphs" fill="#4a3608">UVEAL</text>
<text x="14.6" y="313" font-size="7.5" text-anchor="middle" transform="rotate(-90 14.6 313)" fill="#1c1c1c">% Signature</text>
<text x="52.9" y="282.8" font-size="7.3" text-anchor="end" fill="#1c1c1c">100</text>
<text x="52.9" y="299.3" font-size="7.3" text-anchor="end" fill="#1c1c1c">75</text>
<text x="52.9" y="315.8" font-size="7.3" text-anchor="end" fill="#1c1c1c">50</text>
<text x="52.9" y="332.4" font-size="7.3" text-anchor="end" fill="#1c1c1c">25</text>
<text x="52.9" y="348.9" font-size="7.3" text-anchor="end" fill="#1c1c1c">0</text>
<line x1="55.6" y1="279.9" x2="55.6" y2="346.8" stroke="#333" stroke-width="0.6"/>
<rect x="448.5" y="256.4" width="3.7" height="4.5" fill="#e2a62f"/>
<text x="453.9" y="261.15" font-size="6.9" fill="#1c1c1c">SBS40</text>
<rect x="448.5" y="263.35" width="3.7" height="4.5" fill="#d81b84"/>
<text x="453.9" y="268.1" font-size="6.9" fill="#1c1c1c">SBS39</text>
<rect x="448.5" y="270.3" width="3.7" height="4.5" fill="#000000"/>
<text x="453.9" y="275.05" font-size="6.9" fill="#1c1c1c">SBS38</text>
<rect x="448.5" y="277.25" width="3.7" height="4.5" fill="#f2a024"/>
<text x="453.9" y="282" font-size="6.9" fill="#1c1c1c">SBS32</text>
<rect x="448.5" y="284.2" width="3.7" height="4.5" fill="#f2dc2e"/>
<text x="453.9" y="288.95" font-size="6.9" fill="#1c1c1c">SBS21</text>
<rect x="448.5" y="291.15" width="3.7" height="4.5" fill="#8a5aa8"/>
<text x="453.9" y="295.9" font-size="6.9" fill="#1c1c1c">SBS18</text>
<rect x="448.5" y="298.1" width="3.7" height="4.5" fill="#d9c4c0"/>
<text x="453.9" y="302.85" font-size="6.9" fill="#1c1c1c">SBS45/55 (artifact)</text>
<rect x="448.5" y="305.05" width="3.7" height="4.5" fill="#1f9448"/>
<text x="453.9" y="309.8" font-size="6.9" fill="#1c1c1c">SBS3/8 (HRD)</text>
<rect x="448.5" y="312" width="3.7" height="4.5" fill="#f1ebd5"/>
<text x="453.9" y="316.75" font-size="6.9" fill="#1c1c1c">SBS1/5</text>
<rect x="448.5" y="318.95" width="3.7" height="4.5" fill="#6c68b4"/>
<text x="453.9" y="323.7" font-size="6.9" fill="#1c1c1c">SBS31/35 (Cisplatin)</text>
<rect x="448.5" y="325.9" width="3.7" height="4.5" fill="#4a86c8"/>
<text x="453.9" y="330.65" font-size="6.9" fill="#1c1c1c">SBS2/13 (APOBEC)</text>
<rect x="448.5" y="332.85" width="3.7" height="4.5" fill="#8fba8a"/>
<text x="453.9" y="337.6" font-size="6.9" fill="#1c1c1c">SBS17</text>
<rect x="448.5" y="339.8" width="3.7" height="4.5" fill="#e4705e"/>
<text x="453.9" y="344.55" font-size="6.9" fill="#1c1c1c">SBS7d (UVR)</text>
<rect x="448.5" y="346.75" width="3.7" height="4.5" fill="#e0343a"/>
<text x="453.9" y="351.5" font-size="6.9" fill="#1c1c1c">SBS7c (UVR)</text>
<rect x="448.5" y="353.7" width="3.7" height="4.5" fill="#c41f38"/>
<text x="453.9" y="358.45" font-size="6.9" fill="#1c1c1c">SBS7b (UVR)</text>
<rect x="448.5" y="360.65" width="3.7" height="4.5" fill="#7e1822"/>
<text x="453.9" y="365.4" font-size="6.9" fill="#1c1c1c">SBS7a (UVR)</text>
<text x="0.8" y="378.6" font-size="10" font-weight="bold" fill="#111">B</text>
<rect x="56.7" y="387.5" width="5.73" height="52.9" fill="#b3b3b3"/>
<rect x="56.7" y="390.67" width="5.73" height="49.73" fill="#c4242b"/>
<rect x="63.13" y="387.5" width="5.73" height="52.9" fill="#b3b3b3"/>
<rect x="63.13" y="392.26" width="5.73" height="48.14" fill="#c4242b"/>
<rect x="69.56" y="387.5" width="5.73" height="52.9" fill="#b3b3b3"/>
<rect x="69.56" y="392.79" width="5.73" height="47.61" fill="#c4242b"/>
<rect x="75.99" y="387.5" width="5.73" height="52.9" fill="#b3b3b3"/>
<rect x="75.99" y="393.85" width="5.73" height="46.55" fill="#c4242b"/>
<rect x="82.42" y="387.5" width="5.73" height="52.9" fill="#b3b3b3"/>
<rect x="82.42" y="394.91" width="5.73" height="45.49" fill="#c4242b"/>
<rect x="88.85" y="387.5" width="5.73" height="52.9" fill="#b3b3b3"/>
<rect x="88.85" y="397.02" width="5.73" height="43.38" fill="#c4242b"/>
<rect x="95.28" y="387.5" width="5.73" height="52.9" fill="#b3b3b3"/>
<rect x="95.28" y="398.61" width="5.73" height="41.79" fill="#c4242b"/>
<rect x="101.71" y="387.5" width="5.73" height="52.9" fill="#b3b3b3"/>
<rect x="101.71" y="403.37" width="5.73" height="37.03" fill="#c4242b"/>
<rect x="108.14" y="387.5" width="5.73" height="52.9" fill="#b3b3b3"/>
<rect x="108.14" y="403.9" width="5.73" height="36.5" fill="#c4242b"/>
<rect x="114.57" y="387.5" width="5.73" height="52.9" fill="#b3b3b3"/>
<rect x="114.57" y="407.07" width="5.73" height="33.33" fill="#c4242b"/>
<rect x="121" y="387.5" width="5.73" height="52.9" fill="#b3b3b3"/>
<rect x="121" y="410.78" width="5.73" height="29.62" fill="#c4242b"/>
<rect x="127.43" y="387.5" width="5.73" height="52.9" fill="#b3b3b3"/>
<rect x="127.43" y="413.95" width="5.73" height="26.45" fill="#c4242b"/>
<rect x="133.86" y="387.5" width="5.73" height="52.9" fill="#b3b3b3"/>
<rect x="133.86" y="417.12" width="5.73" height="23.28" fill="#c4242b"/>
<rect x="140.29" y="387.5" width="5.73" height="52.9" fill="#b3b3b3"/>
<rect x="140.29" y="418.71" width="5.73" height="21.69" fill="#c4242b"/>
<rect x="146.72" y="387.5" width="5.73" height="52.9" fill="#b3b3b3"/>
<rect x="146.72" y="420.3" width="5.73" height="20.1" fill="#c4242b"/>
<rect x="153.15" y="387.5" width="5.73" height="52.9" fill="#b3b3b3"/>
<rect x="153.15" y="421.36" width="5.73" height="19.04" fill="#c4242b"/>
<rect x="159.58" y="387.5" width="5.73" height="52.9" fill="#b3b3b3"/>
<rect x="159.58" y="421.36" width="5.73" height="19.04" fill="#c4242b"/>
<rect x="166.01" y="387.5" width="5.73" height="52.9" fill="#b3b3b3"/>
<rect x="166.01" y="420.83" width="5.73" height="19.57" fill="#c4242b"/>
<rect x="172.44" y="387.5" width="5.73" height="52.9" fill="#b3b3b3"/>
<rect x="172.44" y="421.36" width="5.73" height="19.04" fill="#c4242b"/>
<rect x="178.87" y="387.5" width="5.73" height="52.9" fill="#b3b3b3"/>
<rect x="178.87" y="422.41" width="5.73" height="17.99" fill="#c4242b"/>
<rect x="185.3" y="387.5" width="5.73" height="52.9" fill="#b3b3b3"/>
<rect x="185.3" y="423.47" width="5.73" height="16.93" fill="#c4242b"/>
<rect x="191.73" y="387.5" width="5.73" height="52.9" fill="#b3b3b3"/>
<rect x="191.73" y="424.53" width="5.73" height="15.87" fill="#c4242b"/>
<rect x="198.16" y="387.5" width="5.73" height="52.9" fill="#b3b3b3"/>
<rect x="198.16" y="427.7" width="5.73" height="12.7" fill="#c4242b"/>
<rect x="204.59" y="387.5" width="5.73" height="52.9" fill="#b3b3b3"/>
<rect x="204.59" y="427.7" width="5.73" height="12.7" fill="#c4242b"/>
<rect x="56.65" y="448.8" width="6.53" height="9.9" fill="#a6cfe1"/>
<rect x="63.08" y="448.8" width="6.53" height="9.9" fill="#f08a86"/>
<rect x="69.51" y="448.8" width="6.53" height="9.9" fill="#209a52"/>
<rect x="75.94" y="448.8" width="6.53" height="9.9" fill="#209a52"/>
<rect x="82.37" y="448.8" width="6.53" height="9.9" fill="#a6cfe1"/>
<rect x="88.8" y="448.8" width="6.53" height="9.9" fill="#209a52"/>
<rect x="95.23" y="448.8" width="6.53" height="9.9" fill="#9a2ea6"/>
<rect x="101.66" y="448.8" width="6.53" height="9.9" fill="#a6cfe1"/>
<rect x="108.09" y="448.8" width="6.53" height="9.9" fill="#a6cfe1"/>
<rect x="114.52" y="448.8" width="6.53" height="9.9" fill="#209a52"/>
<rect x="120.95" y="448.8" width="6.53" height="9.9" fill="#9a2ea6"/>
<rect x="127.38" y="448.8" width="6.53" height="9.9" fill="#9a2ea6"/>
<rect x="133.81" y="448.8" width="6.53" height="9.9" fill="#9a2ea6"/>
<rect x="140.24" y="448.8" width="6.53" height="9.9" fill="#a6cfe1"/>
<rect x="146.67" y="448.8" width="6.53" height="9.9" fill="#a6cfe1"/>
<rect x="153.1" y="448.8" width="6.53" height="9.9" fill="#a6cfe1"/>
<rect x="159.53" y="448.8" width="6.53" height="9.9" fill="#a6cfe1"/>
<rect x="165.96" y="448.8" width="6.53" height="9.9" fill="#a6cfe1"/>
<rect x="172.39" y="448.8" width="6.53" height="9.9" fill="#f08a86"/>
<rect x="178.82" y="448.8" width="6.53" height="9.9" fill="#a6cfe1"/>
<rect x="185.25" y="448.8" width="6.53" height="9.9" fill="#209a52"/>
<rect x="191.68" y="448.8" width="6.53" height="9.9" fill="#209a52"/>
<rect x="198.11" y="448.8" width="6.53" height="9.9" fill="#f08a86"/>
<rect x="204.54" y="448.8" width="5.78" height="9.9" fill="#f08a86"/>
<line x1="75.64" y1="448.8" x2="75.64" y2="458.7" stroke="#ffffff" stroke-width="0.25" opacity="0.45"/>
<line x1="107.79" y1="448.8" x2="107.79" y2="458.7" stroke="#ffffff" stroke-width="0.25" opacity="0.45"/>
<line x1="127.08" y1="448.8" x2="127.08" y2="458.7" stroke="#ffffff" stroke-width="0.25" opacity="0.45"/>
<line x1="133.51" y1="448.8" x2="133.51" y2="458.7" stroke="#ffffff" stroke-width="0.25" opacity="0.45"/>
<line x1="146.37" y1="448.8" x2="146.37" y2="458.7" stroke="#ffffff" stroke-width="0.25" opacity="0.45"/>
<line x1="152.8" y1="448.8" x2="152.8" y2="458.7" stroke="#ffffff" stroke-width="0.25" opacity="0.45"/>
<line x1="159.23" y1="448.8" x2="159.23" y2="458.7" stroke="#ffffff" stroke-width="0.25" opacity="0.45"/>
<line x1="165.66" y1="448.8" x2="165.66" y2="458.7" stroke="#ffffff" stroke-width="0.25" opacity="0.45"/>
<line x1="191.38" y1="448.8" x2="191.38" y2="458.7" stroke="#ffffff" stroke-width="0.25" opacity="0.45"/>
<line x1="204.24" y1="448.8" x2="204.24" y2="458.7" stroke="#ffffff" stroke-width="0.25" opacity="0.45"/>
<rect x="223.3" y="387.5" width="5.73" height="52.9" fill="#b3b3b3"/>
<rect x="223.3" y="387.5" width="5.73" height="52.9" fill="#c4242b"/>
<rect x="229.73" y="387.5" width="5.73" height="52.9" fill="#b3b3b3"/>
<rect x="229.73" y="396.49" width="5.73" height="43.91" fill="#c4242b"/>
<rect x="236.16" y="387.5" width="5.73" height="52.9" fill="#b3b3b3"/>
<rect x="236.16" y="406.54" width="5.73" height="33.86" fill="#c4242b"/>
<rect x="242.59" y="387.5" width="5.73" height="52.9" fill="#b3b3b3"/>
<rect x="242.59" y="409.72" width="5.73" height="30.68" fill="#c4242b"/>
<rect x="249.02" y="387.5" width="5.73" height="52.9" fill="#b3b3b3"/>
<rect x="249.02" y="410.78" width="5.73" height="29.62" fill="#c4242b"/>
<rect x="255.45" y="387.5" width="5.73" height="52.9" fill="#b3b3b3"/>
<rect x="255.45" y="414.48" width="5.73" height="25.92" fill="#c4242b"/>
<rect x="261.88" y="387.5" width="5.73" height="52.9" fill="#b3b3b3"/>
<rect x="261.88" y="416.59" width="5.73" height="23.8" fill="#c4242b"/>
<rect x="268.31" y="387.5" width="5.73" height="52.9" fill="#b3b3b3"/>
<rect x="268.31" y="417.12" width="5.73" height="23.28" fill="#c4242b"/>
<rect x="274.74" y="387.5" width="5.73" height="52.9" fill="#b3b3b3"/>
<rect x="274.74" y="417.12" width="5.73" height="23.28" fill="#c4242b"/>
<rect x="281.17" y="387.5" width="5.73" height="52.9" fill="#b3b3b3"/>
<rect x="281.17" y="417.65" width="5.73" height="22.75" fill="#c4242b"/>
<rect x="287.6" y="387.5" width="5.73" height="52.9" fill="#b3b3b3"/>
<rect x="287.6" y="421.36" width="5.73" height="19.04" fill="#c4242b"/>
<rect x="294.03" y="387.5" width="5.73" height="52.9" fill="#b3b3b3"/>
<rect x="294.03" y="424.53" width="5.73" height="15.87" fill="#c4242b"/>
<rect x="300.46" y="387.5" width="5.73" height="52.9" fill="#b3b3b3"/>
<rect x="300.46" y="425.06" width="5.73" height="15.34" fill="#c4242b"/>
<rect x="306.89" y="387.5" width="5.73" height="52.9" fill="#b3b3b3"/>
<rect x="306.89" y="427.7" width="5.73" height="12.7" fill="#c4242b"/>
<rect x="313.32" y="387.5" width="5.73" height="52.9" fill="#b3b3b3"/>
<rect x="313.32" y="430.35" width="5.73" height="10.05" fill="#c4242b"/>
<rect x="319.75" y="387.5" width="5.73" height="52.9" fill="#b3b3b3"/>
<rect x="319.75" y="431.41" width="5.73" height="8.99" fill="#c4242b"/>
<rect x="326.18" y="387.5" width="5.73" height="52.9" fill="#b3b3b3"/>
<rect x="326.18" y="431.94" width="5.73" height="8.46" fill="#c4242b"/>
<rect x="223.25" y="448.8" width="6.53" height="9.9" fill="#8452b8"/>
<rect x="229.68" y="448.8" width="6.53" height="9.9" fill="#1c70a4"/>
<rect x="236.11" y="448.8" width="6.53" height="9.9" fill="#e6ad2c"/>
<rect x="242.54" y="448.8" width="6.53" height="9.9" fill="#b2b6b8"/>
<rect x="248.97" y="448.8" width="6.53" height="9.9" fill="#1c70a4"/>
<rect x="255.4" y="448.8" width="6.53" height="9.9" fill="#e6ad2c"/>
<rect x="261.83" y="448.8" width="6.53" height="9.9" fill="#e6ad2c"/>
<rect x="268.26" y="448.8" width="6.53" height="9.9" fill="#e6ad2c"/>
<rect x="274.69" y="448.8" width="6.53" height="9.9" fill="#e6ad2c"/>
<rect x="281.12" y="448.8" width="6.53" height="9.9" fill="#1c70a4"/>
<rect x="287.55" y="448.8" width="6.53" height="9.9" fill="#e6ad2c"/>
<rect x="293.98" y="448.8" width="6.53" height="9.9" fill="#e6ad2c"/>
<rect x="300.41" y="448.8" width="6.53" height="9.9" fill="#e6ad2c"/>
<rect x="306.84" y="448.8" width="6.53" height="9.9" fill="#c667c6"/>
<rect x="313.27" y="448.8" width="6.53" height="9.9" fill="#e6ad2c"/>
<rect x="319.7" y="448.8" width="6.53" height="9.9" fill="#e6ad2c"/>
<rect x="326.13" y="448.8" width="5.78" height="9.9" fill="#1c70a4"/>
<line x1="261.53" y1="448.8" x2="261.53" y2="458.7" stroke="#ffffff" stroke-width="0.25" opacity="0.45"/>
<line x1="267.96" y1="448.8" x2="267.96" y2="458.7" stroke="#ffffff" stroke-width="0.25" opacity="0.45"/>
<line x1="274.39" y1="448.8" x2="274.39" y2="458.7" stroke="#ffffff" stroke-width="0.25" opacity="0.45"/>
<line x1="293.68" y1="448.8" x2="293.68" y2="458.7" stroke="#ffffff" stroke-width="0.25" opacity="0.45"/>
<line x1="300.11" y1="448.8" x2="300.11" y2="458.7" stroke="#ffffff" stroke-width="0.25" opacity="0.45"/>
<line x1="319.4" y1="448.8" x2="319.4" y2="458.7" stroke="#ffffff" stroke-width="0.25" opacity="0.45"/>
<rect x="344.5" y="387.5" width="5.73" height="52.9" fill="#b3b3b3"/>
<rect x="344.5" y="387.5" width="5.73" height="52.9" fill="#c4242b"/>
<rect x="350.93" y="387.5" width="5.73" height="52.9" fill="#b3b3b3"/>
<rect x="350.93" y="387.5" width="5.73" height="52.9" fill="#c4242b"/>
<rect x="357.36" y="387.5" width="5.73" height="52.9" fill="#b3b3b3"/>
<rect x="357.36" y="387.5" width="5.73" height="52.9" fill="#c4242b"/>
<rect x="363.79" y="387.5" width="5.73" height="52.9" fill="#b3b3b3"/>
<rect x="363.79" y="388.56" width="5.73" height="51.84" fill="#c4242b"/>
<rect x="370.22" y="387.5" width="5.73" height="52.9" fill="#b3b3b3"/>
<rect x="370.22" y="392.26" width="5.73" height="48.14" fill="#c4242b"/>
<rect x="376.65" y="387.5" width="5.73" height="52.9" fill="#b3b3b3"/>
<rect x="376.65" y="392.79" width="5.73" height="47.61" fill="#c4242b"/>
<rect x="383.08" y="387.5" width="5.73" height="52.9" fill="#b3b3b3"/>
<rect x="383.08" y="397.02" width="5.73" height="43.38" fill="#c4242b"/>
<rect x="389.51" y="387.5" width="5.73" height="52.9" fill="#b3b3b3"/>
<rect x="389.51" y="403.9" width="5.73" height="36.5" fill="#c4242b"/>
<rect x="344.45" y="448.8" width="6.53" height="9.9" fill="#96d98f"/>
<rect x="350.88" y="448.8" width="6.53" height="9.9" fill="#96d98f"/>
<rect x="357.31" y="448.8" width="6.53" height="9.9" fill="#96d98f"/>
<rect x="363.74" y="448.8" width="6.53" height="9.9" fill="#96d98f"/>
<rect x="370.17" y="448.8" width="6.53" height="9.9" fill="#96d98f"/>
<rect x="376.6" y="448.8" width="6.53" height="9.9" fill="#96d98f"/>
<rect x="383.03" y="448.8" width="6.53" height="9.9" fill="#96d98f"/>
<rect x="389.46" y="448.8" width="5.78" height="9.9" fill="#96d98f"/>
<line x1="350.58" y1="448.8" x2="350.58" y2="458.7" stroke="#ffffff" stroke-width="0.25" opacity="0.45"/>
<line x1="357.01" y1="448.8" x2="357.01" y2="458.7" stroke="#ffffff" stroke-width="0.25" opacity="0.45"/>
<line x1="363.44" y1="448.8" x2="363.44" y2="458.7" stroke="#ffffff" stroke-width="0.25" opacity="0.45"/>
<line x1="369.87" y1="448.8" x2="369.87" y2="458.7" stroke="#ffffff" stroke-width="0.25" opacity="0.45"/>
<line x1="376.3" y1="448.8" x2="376.3" y2="458.7" stroke="#ffffff" stroke-width="0.25" opacity="0.45"/>
<line x1="382.73" y1="448.8" x2="382.73" y2="458.7" stroke="#ffffff" stroke-width="0.25" opacity="0.45"/>
<line x1="389.16" y1="448.8" x2="389.16" y2="458.7" stroke="#ffffff" stroke-width="0.25" opacity="0.45"/>
<line x1="56.8" y1="440.7" x2="211.3" y2="440.7" stroke="#333" stroke-width="0.6"/>
<line x1="223.1" y1="440.7" x2="332.1" y2="440.7" stroke="#333" stroke-width="0.6"/>
<line x1="344.3" y1="440.7" x2="395.4" y2="440.7" stroke="#333" stroke-width="0.6"/>
<rect x="56.5" y="460.4" width="154.6" height="7.7" fill="#bb6fc4"/>
<text x="134" y="467" font-size="7.5" text-anchor="middle" textLength="25" lengthAdjust="spacingAndGlyphs" fill="#3d1a4a">ACRAL</text>
<rect x="223.3" y="460.4" width="108.8" height="7.7" fill="#86c79a"/>
<text x="277.6" y="467" font-size="7.5" text-anchor="middle" textLength="37" lengthAdjust="spacingAndGlyphs" fill="#1e4a2c">MUCOSAL</text>
<rect x="344.5" y="460.4" width="50.9" height="7.7" fill="#dba324"/>
<text x="370" y="467" font-size="7.5" text-anchor="middle" textLength="24.5" lengthAdjust="spacingAndGlyphs" fill="#4a3608">UVEAL</text>
<text x="12.8" y="414.3" font-size="7.5" text-anchor="middle" transform="rotate(-90 12.8 414.3)" fill="#1c1c1c">% Signature</text>
<text x="52.9" y="390.1" font-size="7.3" text-anchor="end" fill="#1c1c1c">100</text>
<text x="52.9" y="403.33" font-size="7.3" text-anchor="end" fill="#1c1c1c">75</text>
<text x="52.9" y="416.55" font-size="7.3" text-anchor="end" fill="#1c1c1c">50</text>
<text x="52.9" y="429.77" font-size="7.3" text-anchor="end" fill="#1c1c1c">25</text>
<text x="52.9" y="443" font-size="7.3" text-anchor="end" fill="#1c1c1c">0</text>
<line x1="56.05" y1="387.4" x2="56.05" y2="440.9" stroke="#222" stroke-width="0.9"/>
<text x="13" y="456.2" font-size="7.5" fill="#1c1c1c">Primary site</text>
<rect x="405" y="406.6" width="3.4" height="4" fill="#b3b3b3"/>
<text x="410.8" y="411.3" font-size="7" fill="#1c1c1c">Other signature</text>
<rect x="405" y="414.9" width="3.4" height="4" fill="#c4242b"/>
<text x="410.8" y="419.6" font-size="7" fill="#1c1c1c">UVR signature</text>
<rect x="403.8" y="443.8" width="3.4" height="4" fill="#8452b8"/>
<text x="409.3" y="448.3" font-size="7" fill="#1c1c1c">Conjunctival</text>
<rect x="403.8" y="451.6" width="3.4" height="4" fill="#209a52"/>
<text x="409.3" y="456.1" font-size="7" fill="#1c1c1c">Fingernail</text>
<rect x="403.8" y="458.8" width="3.4" height="4" fill="#a6cfe1"/>
<text x="409.3" y="463.3" font-size="7" fill="#1c1c1c">Foot (sole)</text>
<rect x="403.8" y="466.3" width="3.4" height="4" fill="#c667c6"/>
<text x="409.3" y="470.8" font-size="7" fill="#1c1c1c">Genitourinary</text>
<rect x="403.8" y="473.6" width="3.4" height="4" fill="#8d2896"/>
<text x="409.3" y="478.1" font-size="7" fill="#1c1c1c">Toenail</text>
<rect x="463" y="443.8" width="3.4" height="4" fill="#f08a86"/>
<text x="468.8" y="448.3" font-size="7" fill="#1c1c1c">Hand (palm)</text>
<rect x="463" y="451.6" width="3.4" height="4" fill="#96d98f"/>
<text x="468.8" y="456.1" font-size="7" fill="#1c1c1c">Iris</text>
<rect x="463" y="458.8" width="3.4" height="4" fill="#e6ad2c"/>
<text x="468.8" y="463.3" font-size="7" fill="#1c1c1c">Nasal</text>
<rect x="463" y="466.3" width="3.4" height="4" fill="#1c70a4"/>
<text x="468.8" y="470.8" font-size="7" fill="#1c1c1c">Oral</text>
<rect x="463" y="472.6" width="3.4" height="4" fill="#b2b6b8"/>
<text x="468.8" y="477.1" font-size="7" fill="#1c1c1c">Unknown</text>
<text x="0.8" y="491.4" font-size="10" font-weight="bold" fill="#111">C</text>
<rect x="57" y="498.3" width="6.5" height="53" fill="#b3b3b3"/>
<rect x="57" y="523.74" width="6.5" height="21.2" fill="#c4242b"/>
<rect x="57" y="544.94" width="6.5" height="6.36" fill="#000"/>
<rect x="64.25" y="498.3" width="6.5" height="53" fill="#b3b3b3"/>
<rect x="64.25" y="529.3" width="6.5" height="12.45" fill="#c4242b"/>
<rect x="64.25" y="541.76" width="6.5" height="9.54" fill="#000"/>
<rect x="71.5" y="498.3" width="6.5" height="53" fill="#b3b3b3"/>
<rect x="71.5" y="544.41" width="6.5" height="6.89" fill="#000"/>
<rect x="56.95" y="560" width="7.35" height="10" fill="#555459"/>
<rect x="64.2" y="560" width="7.35" height="10" fill="#a455b4"/>
<rect x="71.45" y="560" width="6.55" height="10" fill="#a455b4"/>
<line x1="71.12" y1="560" x2="71.12" y2="570" stroke="#ffffff" stroke-width="0.25" opacity="0.45"/>
<rect x="90" y="498.3" width="6.45" height="53" fill="#b3b3b3"/>
<rect x="90" y="526.39" width="6.45" height="24.91" fill="#000"/>
<rect x="97.2" y="498.3" width="6.45" height="53" fill="#b3b3b3"/>
<rect x="97.2" y="526.92" width="6.45" height="24.38" fill="#000"/>
<rect x="104.4" y="498.3" width="6.45" height="53" fill="#b3b3b3"/>
<rect x="104.4" y="527.45" width="6.45" height="23.85" fill="#000"/>
<rect x="111.6" y="498.3" width="6.45" height="53" fill="#b3b3b3"/>
<rect x="111.6" y="528.77" width="6.45" height="22.52" fill="#000"/>
<rect x="118.8" y="498.3" width="6.45" height="53" fill="#b3b3b3"/>
<rect x="118.8" y="528.77" width="6.45" height="22.52" fill="#000"/>
<rect x="126" y="498.3" width="6.45" height="53" fill="#b3b3b3"/>
<rect x="126" y="534.34" width="6.45" height="16.96" fill="#000"/>
<rect x="133.2" y="498.3" width="6.45" height="53" fill="#b3b3b3"/>
<rect x="133.2" y="535.93" width="6.45" height="15.37" fill="#000"/>
<rect x="140.4" y="498.3" width="6.45" height="53" fill="#b3b3b3"/>
<rect x="140.4" y="536.46" width="6.45" height="14.84" fill="#000"/>
<rect x="147.6" y="498.3" width="6.45" height="53" fill="#b3b3b3"/>
<rect x="147.6" y="536.99" width="6.45" height="14.31" fill="#000"/>
<rect x="154.8" y="498.3" width="6.45" height="53" fill="#b3b3b3"/>
<rect x="154.8" y="540.7" width="6.45" height="10.6" fill="#000"/>
<rect x="162" y="498.3" width="6.45" height="53" fill="#b3b3b3"/>
<rect x="162" y="542.02" width="6.45" height="9.27" fill="#000"/>
<rect x="169.2" y="498.3" width="6.45" height="53" fill="#b3b3b3"/>
<rect x="169.2" y="542.29" width="6.45" height="9.01" fill="#000"/>
<rect x="176.4" y="498.3" width="6.45" height="53" fill="#b3b3b3"/>
<rect x="176.4" y="543.08" width="6.45" height="8.21" fill="#000"/>
<rect x="183.6" y="498.3" width="6.45" height="53" fill="#b3b3b3"/>
<rect x="183.6" y="543.35" width="6.45" height="7.95" fill="#000"/>
<rect x="190.8" y="498.3" width="6.45" height="53" fill="#b3b3b3"/>
<rect x="190.8" y="543.35" width="6.45" height="7.95" fill="#000"/>
<rect x="198" y="498.3" width="6.45" height="53" fill="#b3b3b3"/>
<rect x="198" y="543.35" width="6.45" height="7.95" fill="#000"/>
<rect x="205.2" y="498.3" width="6.45" height="53" fill="#b3b3b3"/>
<rect x="205.2" y="543.35" width="6.45" height="7.95" fill="#000"/>
<rect x="212.4" y="498.3" width="6.45" height="53" fill="#b3b3b3"/>
<rect x="212.4" y="543.35" width="6.45" height="7.95" fill="#000"/>
<rect x="219.6" y="498.3" width="6.45" height="53" fill="#b3b3b3"/>
<rect x="219.6" y="544.41" width="6.45" height="6.89" fill="#000"/>
<rect x="89.95" y="560" width="7.3" height="10" fill="#a6cfe1"/>
<rect x="97.15" y="560" width="7.3" height="10" fill="#a6cfe1"/>
<rect x="104.35" y="560" width="7.3" height="10" fill="#8d2896"/>
<rect x="111.55" y="560" width="7.3" height="10" fill="#a6cfe1"/>
<rect x="118.75" y="560" width="7.3" height="10" fill="#a6cfe1"/>
<rect x="125.95" y="560" width="7.3" height="10" fill="#f08a86"/>
<rect x="133.15" y="560" width="7.3" height="10" fill="#a6cfe1"/>
<rect x="140.35" y="560" width="7.3" height="10" fill="#a6cfe1"/>
<rect x="147.55" y="560" width="7.3" height="10" fill="#a6cfe1"/>
<rect x="154.75" y="560" width="7.3" height="10" fill="#a6cfe1"/>
<rect x="161.95" y="560" width="7.3" height="10" fill="#a6cfe1"/>
<rect x="169.15" y="560" width="7.3" height="10" fill="#a6cfe1"/>
<rect x="176.35" y="560" width="7.3" height="10" fill="#a6cfe1"/>
<rect x="183.55" y="560" width="7.3" height="10" fill="#a6cfe1"/>
<rect x="190.75" y="560" width="7.3" height="10" fill="#a6cfe1"/>
<rect x="197.95" y="560" width="7.3" height="10" fill="#8d2896"/>
<rect x="205.15" y="560" width="7.3" height="10" fill="#a6cfe1"/>
<rect x="212.35" y="560" width="7.3" height="10" fill="#a6cfe1"/>
<rect x="219.55" y="560" width="6.5" height="10" fill="#a6cfe1"/>
<line x1="96.83" y1="560" x2="96.83" y2="570" stroke="#ffffff" stroke-width="0.25" opacity="0.45"/>
<line x1="118.42" y1="560" x2="118.42" y2="570" stroke="#ffffff" stroke-width="0.25" opacity="0.45"/>
<line x1="140.03" y1="560" x2="140.03" y2="570" stroke="#ffffff" stroke-width="0.25" opacity="0.45"/>
<line x1="147.22" y1="560" x2="147.22" y2="570" stroke="#ffffff" stroke-width="0.25" opacity="0.45"/>
<line x1="154.43" y1="560" x2="154.43" y2="570" stroke="#ffffff" stroke-width="0.25" opacity="0.45"/>
<line x1="161.62" y1="560" x2="161.62" y2="570" stroke="#ffffff" stroke-width="0.25" opacity="0.45"/>
<line x1="168.82" y1="560" x2="168.82" y2="570" stroke="#ffffff" stroke-width="0.25" opacity="0.45"/>
<line x1="176.03" y1="560" x2="176.03" y2="570" stroke="#ffffff" stroke-width="0.25" opacity="0.45"/>
<line x1="183.23" y1="560" x2="183.23" y2="570" stroke="#ffffff" stroke-width="0.25" opacity="0.45"/>
<line x1="190.43" y1="560" x2="190.43" y2="570" stroke="#ffffff" stroke-width="0.25" opacity="0.45"/>
<line x1="212.03" y1="560" x2="212.03" y2="570" stroke="#ffffff" stroke-width="0.25" opacity="0.45"/>
<line x1="219.22" y1="560" x2="219.22" y2="570" stroke="#ffffff" stroke-width="0.25" opacity="0.45"/>
<rect x="238.3" y="498.3" width="6.41" height="53" fill="#b3b3b3"/>
<rect x="238.3" y="511.28" width="6.41" height="29.94" fill="#c4242b"/>
<rect x="238.3" y="541.23" width="6.41" height="10.07" fill="#000"/>
<rect x="245.46" y="498.3" width="6.41" height="53" fill="#b3b3b3"/>
<rect x="245.46" y="519.5" width="6.41" height="23.58" fill="#c4242b"/>
<rect x="245.46" y="543.08" width="6.41" height="8.21" fill="#000"/>
<rect x="252.62" y="498.3" width="6.41" height="53" fill="#b3b3b3"/>
<rect x="252.62" y="522.15" width="6.41" height="19.61" fill="#c4242b"/>
<rect x="252.62" y="541.76" width="6.41" height="9.54" fill="#000"/>
<rect x="259.78" y="498.3" width="6.41" height="53" fill="#b3b3b3"/>
<rect x="259.78" y="520.82" width="6.41" height="16.16" fill="#c4242b"/>
<rect x="259.78" y="536.99" width="6.41" height="14.31" fill="#000"/>
<rect x="266.94" y="498.3" width="6.41" height="53" fill="#b3b3b3"/>
<rect x="266.94" y="532.22" width="6.41" height="10.86" fill="#c4242b"/>
<rect x="266.94" y="543.08" width="6.41" height="8.21" fill="#000"/>
<rect x="274.1" y="498.3" width="6.41" height="53" fill="#b3b3b3"/>
<rect x="274.1" y="529.3" width="6.41" height="9.54" fill="#c4242b"/>
<rect x="274.1" y="538.85" width="6.41" height="12.45" fill="#000"/>
<rect x="281.26" y="498.3" width="6.41" height="53" fill="#b3b3b3"/>
<rect x="281.26" y="531.16" width="6.41" height="20.14" fill="#000"/>
<rect x="288.42" y="498.3" width="6.41" height="53" fill="#b3b3b3"/>
<rect x="288.42" y="533.28" width="6.41" height="18.02" fill="#000"/>
<rect x="295.58" y="498.3" width="6.41" height="53" fill="#b3b3b3"/>
<rect x="295.58" y="535.93" width="6.41" height="15.37" fill="#000"/>
<rect x="302.74" y="498.3" width="6.41" height="53" fill="#b3b3b3"/>
<rect x="302.74" y="536.99" width="6.41" height="14.31" fill="#000"/>
<rect x="309.9" y="498.3" width="6.41" height="53" fill="#b3b3b3"/>
<rect x="309.9" y="539.64" width="6.41" height="11.66" fill="#000"/>
<rect x="317.06" y="498.3" width="6.41" height="53" fill="#b3b3b3"/>
<rect x="317.06" y="540.7" width="6.41" height="10.6" fill="#000"/>
<rect x="324.22" y="498.3" width="6.41" height="53" fill="#b3b3b3"/>
<rect x="324.22" y="543.08" width="6.41" height="8.21" fill="#000"/>
<rect x="331.38" y="498.3" width="6.41" height="53" fill="#b3b3b3"/>
<rect x="331.38" y="543.08" width="6.41" height="8.21" fill="#000"/>
<rect x="338.54" y="498.3" width="6.41" height="53" fill="#b3b3b3"/>
<rect x="338.54" y="543.08" width="6.41" height="8.21" fill="#000"/>
<rect x="345.7" y="498.3" width="6.41" height="53" fill="#b3b3b3"/>
<rect x="345.7" y="543.08" width="6.41" height="8.21" fill="#000"/>
<rect x="352.86" y="498.3" width="6.41" height="53" fill="#b3b3b3"/>
<rect x="352.86" y="543.35" width="6.41" height="7.95" fill="#000"/>
<rect x="360.02" y="498.3" width="6.41" height="53" fill="#b3b3b3"/>
<rect x="360.02" y="544.41" width="6.41" height="6.89" fill="#000"/>
<rect x="367.18" y="498.3" width="6.41" height="53" fill="#b3b3b3"/>
<rect x="367.18" y="545.47" width="6.41" height="5.83" fill="#000"/>
<rect x="238.25" y="560" width="7.26" height="10" fill="#1c70a4"/>
<rect x="245.41" y="560" width="7.26" height="10" fill="#e6ad2c"/>
<rect x="252.57" y="560" width="7.26" height="10" fill="#e6ad2c"/>
<rect x="259.73" y="560" width="7.26" height="10" fill="#e6ad2c"/>
<rect x="266.89" y="560" width="7.26" height="10" fill="#e6ad2c"/>
<rect x="274.05" y="560" width="7.26" height="10" fill="#e6ad2c"/>
<rect x="281.21" y="560" width="7.26" height="10" fill="#1c70a4"/>
<rect x="288.37" y="560" width="7.26" height="10" fill="#3f62b4"/>
<rect x="295.53" y="560" width="7.26" height="10" fill="#c667c6"/>
<rect x="302.69" y="560" width="7.26" height="10" fill="#1c70a4"/>
<rect x="309.85" y="560" width="7.26" height="10" fill="#1c70a4"/>
<rect x="317.01" y="560" width="7.26" height="10" fill="#1c70a4"/>
<rect x="324.17" y="560" width="7.26" height="10" fill="#1c70a4"/>
<rect x="331.33" y="560" width="7.26" height="10" fill="#1c70a4"/>
<rect x="338.49" y="560" width="7.26" height="10" fill="#c667c6"/>
<rect x="345.65" y="560" width="7.26" height="10" fill="#3f62b4"/>
<rect x="352.81" y="560" width="7.26" height="10" fill="#c667c6"/>
<rect x="359.97" y="560" width="7.26" height="10" fill="#3f62b4"/>
<rect x="367.13" y="560" width="6.46" height="10" fill="#e6ad2c"/>
<line x1="252.25" y1="560" x2="252.25" y2="570" stroke="#ffffff" stroke-width="0.25" opacity="0.45"/>
<line x1="259.41" y1="560" x2="259.41" y2="570" stroke="#ffffff" stroke-width="0.25" opacity="0.45"/>
<line x1="266.56" y1="560" x2="266.56" y2="570" stroke="#ffffff" stroke-width="0.25" opacity="0.45"/>
<line x1="273.73" y1="560" x2="273.73" y2="570" stroke="#ffffff" stroke-width="0.25" opacity="0.45"/>
<line x1="309.52" y1="560" x2="309.52" y2="570" stroke="#ffffff" stroke-width="0.25" opacity="0.45"/>
<line x1="316.69" y1="560" x2="316.69" y2="570" stroke="#ffffff" stroke-width="0.25" opacity="0.45"/>
<line x1="323.85" y1="560" x2="323.85" y2="570" stroke="#ffffff" stroke-width="0.25" opacity="0.45"/>
<line x1="331" y1="560" x2="331" y2="570" stroke="#ffffff" stroke-width="0.25" opacity="0.45"/>
<rect x="385.5" y="498.3" width="6.45" height="53" fill="#b3b3b3"/>
<rect x="385.5" y="527.98" width="6.45" height="23.32" fill="#000"/>
<rect x="392.7" y="498.3" width="6.45" height="53" fill="#b3b3b3"/>
<rect x="392.7" y="545.47" width="6.45" height="5.83" fill="#000"/>
<rect x="385.45" y="560" width="7.3" height="10" fill="#209a52"/>
<rect x="392.65" y="560" width="6.5" height="10" fill="#209a52"/>
<line x1="392.32" y1="560" x2="392.32" y2="570" stroke="#ffffff" stroke-width="0.25" opacity="0.45"/>
<line x1="56.8" y1="551.6" x2="78.9" y2="551.6" stroke="#333" stroke-width="0.6"/>
<line x1="89.8" y1="551.6" x2="226.9" y2="551.6" stroke="#333" stroke-width="0.6"/>
<line x1="238.1" y1="551.6" x2="374.4" y2="551.6" stroke="#333" stroke-width="0.6"/>
<line x1="385.3" y1="551.6" x2="399.4" y2="551.6" stroke="#333" stroke-width="0.6"/>
<rect x="57" y="571.8" width="21.2" height="7.4" fill="#74b3e4"/>
<text x="67.6" y="578.3" font-size="7.5" text-anchor="middle" fill="#1b3a63">CM</text>
<rect x="90" y="571.8" width="136.2" height="7.4" fill="#bb6fc4"/>
<text x="160" y="578.3" font-size="7.5" text-anchor="middle" textLength="25" lengthAdjust="spacingAndGlyphs" fill="#3d1a4a">ACRAL</text>
<rect x="238.3" y="571.8" width="135.5" height="7.4" fill="#86c79a"/>
<text x="306" y="578.3" font-size="7.5" text-anchor="middle" textLength="37" lengthAdjust="spacingAndGlyphs" fill="#1e4a2c">MUCOSAL</text>
<rect x="385.5" y="571.8" width="13.8" height="7.4" fill="#dba324"/>
<text x="392.4" y="578" font-size="6.6" text-anchor="middle" textLength="13.2" lengthAdjust="spacingAndGlyphs" fill="#4a3608">UVEAL</text>
<text x="31.4" y="524.6" font-size="7.5" text-anchor="middle" transform="rotate(-90 31.4 524.6)" fill="#1c1c1c">% Signature</text>
<text x="52.9" y="500.9" font-size="7.3" text-anchor="end" fill="#1c1c1c">100</text>
<text x="52.9" y="514.15" font-size="7.3" text-anchor="end" fill="#1c1c1c">75</text>
<text x="52.9" y="527.4" font-size="7.3" text-anchor="end" fill="#1c1c1c">50</text>
<text x="52.9" y="540.65" font-size="7.3" text-anchor="end" fill="#1c1c1c">25</text>
<text x="52.9" y="553.9" font-size="7.3" text-anchor="end" fill="#1c1c1c">0</text>
<line x1="56.05" y1="498.2" x2="56.05" y2="551.8" stroke="#222" stroke-width="0.9"/>
<text x="13" y="567.6" font-size="7.5" fill="#1c1c1c">Primary site</text>
<rect x="407" y="513.6" width="3.3" height="3.8" fill="#b3b3b3"/>
<text x="412.3" y="517.6" font-size="7" fill="#1c1c1c">Other signature</text>
<rect x="407" y="521.4" width="3.3" height="3.8" fill="#c4242b"/>
<text x="412.3" y="525.4" font-size="7" fill="#1c1c1c">UVR signature</text>
<rect x="407" y="529.2" width="3.3" height="3.8" fill="#000"/>
<text x="412.3" y="533.2" font-size="7" fill="#1c1c1c">SBS38</text>
<rect x="407" y="553.5" width="3.3" height="3.8" fill="#3f62b4"/>
<text x="412.3" y="557.7" font-size="7" fill="#1c1c1c">Anorectal</text>
<rect x="461.9" y="553.5" width="3.3" height="3.8" fill="#f08a86"/>
<text x="467.2" y="557.7" font-size="7" fill="#1c1c1c">Hand (palm)</text>
<rect x="407" y="561.2" width="3.3" height="3.8" fill="#209a52"/>
<text x="412.3" y="565.4" font-size="7" fill="#1c1c1c">Choroidal</text>
<rect x="461.9" y="561.2" width="3.3" height="3.8" fill="#555459"/>
<text x="467.2" y="565.4" font-size="7" fill="#1c1c1c">Leg</text>
<rect x="407" y="568.9" width="3.3" height="3.8" fill="#a6cfe1"/>
<text x="412.3" y="573.1" font-size="7" fill="#1c1c1c">Foot (sole)</text>
<rect x="461.9" y="568.9" width="3.3" height="3.8" fill="#e6ad2c"/>
<text x="467.2" y="573.1" font-size="7" fill="#1c1c1c">Nasal</text>
<rect x="407" y="576.6" width="3.3" height="3.8" fill="#c667c6"/>
<text x="412.3" y="580.8" font-size="7" fill="#1c1c1c">Genitourinary</text>
<rect x="461.9" y="576.6" width="3.3" height="3.8" fill="#1c70a4"/>
<text x="467.2" y="580.8" font-size="7" fill="#1c1c1c">Oral</text>
<rect x="407" y="584.3" width="3.3" height="3.8" fill="#8d2896"/>
<text x="412.3" y="588.5" font-size="7" fill="#1c1c1c">Toenail</text>
<rect x="461.9" y="584.3" width="3.3" height="3.8" fill="#a455b4"/>
<text x="467.2" y="588.5" font-size="7" fill="#1c1c1c">Trunk</text>
<defs><linearGradient id="gg" x1="0" y1="0" x2="0" y2="1">
<stop offset="0" stop-color="#2c2c2c"/><stop offset="0.09" stop-color="#4e4e4e"/><stop offset="0.2" stop-color="#858585"/>
<stop offset="0.3" stop-color="#b9b9b9"/><stop offset="0.4" stop-color="#e6e6e6"/><stop offset="0.47" stop-color="#ffffff"/>
<stop offset="0.53" stop-color="#ffffff"/><stop offset="0.6" stop-color="#e6e6e6"/><stop offset="0.7" stop-color="#b9b9b9"/>
<stop offset="0.8" stop-color="#858585"/><stop offset="0.91" stop-color="#4e4e4e"/><stop offset="1" stop-color="#2c2c2c"/></linearGradient></defs>
<text x="0.6" y="606.7" font-size="10" font-weight="bold" fill="#111">D</text>
<rect x="48.5" y="611.6" width="191.5" height="116.4" fill="url(#gg)"/>
<line x1="48.5" y1="611.6" x2="48.5" y2="728" stroke="#222" stroke-width="0.7"/>
<line x1="48.5" y1="728" x2="240" y2="728" stroke="#222" stroke-width="0.6"/>
<line x1="48.5" y1="611.6" x2="240" y2="611.6" stroke="#222" stroke-width="0.5"/>
<text x="43" y="624.4" font-size="7.3" text-anchor="end" fill="#1c1c1c">100</text>
<line x1="44.9" y1="621.8" x2="48.5" y2="621.8" stroke="#333" stroke-width="0.6"/>
<text x="43" y="648.4" font-size="7.3" text-anchor="end" fill="#1c1c1c">50</text>
<line x1="44.9" y1="645.8" x2="48.5" y2="645.8" stroke="#333" stroke-width="0.6"/>
<text x="43" y="672.6" font-size="7.3" text-anchor="end" fill="#1c1c1c">0</text>
<line x1="44.9" y1="670" x2="48.5" y2="670" stroke="#333" stroke-width="0.6"/>
<text x="43" y="696.7" font-size="7.3" text-anchor="end" fill="#1c1c1c">50</text>
<line x1="44.9" y1="694.1" x2="48.5" y2="694.1" stroke="#333" stroke-width="0.6"/>
<text x="43" y="720.8" font-size="7.3" text-anchor="end" fill="#1c1c1c">100</text>
<line x1="44.9" y1="718.2" x2="48.5" y2="718.2" stroke="#333" stroke-width="0.6"/>
<text x="15.9" y="670" font-size="7.6" text-anchor="middle" transform="rotate(-90 15.9 670)" fill="#1c1c1c">% Difference in</text>
<text x="25.1" y="670" font-size="7.6" text-anchor="middle" transform="rotate(-90 25.1 670)" fill="#1c1c1c">signature contribution</text>
<line x1="100.5" y1="655" x2="100.5" y2="692.2" stroke="#444" stroke-width="0.5"/>
<line x1="78.8" y1="655" x2="122.5" y2="655" stroke="#444" stroke-width="0.6"/>
<line x1="78.8" y1="692.2" x2="122.5" y2="692.2" stroke="#444" stroke-width="0.6"/>
<rect x="67.5" y="670.5" width="65.8" height="9.9" fill="#fff" stroke="#444" stroke-width="0.6"/>
<line x1="67.5" y1="673.1" x2="133.3" y2="673.1" stroke="#444" stroke-width="0.7"/>
<line x1="188" y1="645.8" x2="188" y2="675.5" stroke="#444" stroke-width="0.5"/>
<line x1="166.3" y1="645.8" x2="210" y2="645.8" stroke="#444" stroke-width="0.6"/>
<line x1="166.3" y1="675.5" x2="210" y2="675.5" stroke="#444" stroke-width="0.6"/>
<rect x="155.5" y="658" width="65" height="11.5" fill="#fff" stroke="#444" stroke-width="0.6"/>
<line x1="155.5" y1="662" x2="220.5" y2="662" stroke="#444" stroke-width="0.7"/>
<line x1="144.5" y1="626.5" x2="144.5" y2="714" stroke="#000" stroke-width="2.7"/>
<path d="M140.9 631 L144.5 625.6 L148.1 631 M140.9 709.4 L144.5 714.8 L148.1 709.4" fill="none" stroke="#000" stroke-width="2.5" stroke-linejoin="miter" stroke-linecap="round"/>
<rect x="142.1" y="667.6" width="4.8" height="4.8" fill="#fff"/>
<line x1="45.5" y1="670" x2="240" y2="670" stroke="#444" stroke-width="1.3" stroke-dasharray="3.2 2.3"/>
<text x="144.5" y="619.6" font-size="7.5" text-anchor="middle" font-weight="bold" fill="#fff">Late clonal</text>
<text x="144.5" y="725.4" font-size="7.5" text-anchor="middle" font-weight="bold" fill="#fff">Early clonal</text>
<circle cx="97.5" cy="653.94" r="2.05" fill="#c97ccc" stroke="#26394d" stroke-width="0.5"/>
<circle cx="100.8" cy="654.24" r="2.05" fill="#c97ccc" stroke="#26394d" stroke-width="0.5"/>
<circle cx="104" cy="654.07" r="2.05" fill="#c97ccc" stroke="#26394d" stroke-width="0.5"/>
<circle cx="101.81" cy="664.25" r="2.05" fill="#7fc98c" stroke="#26394d" stroke-width="0.5"/>
<circle cx="104.01" cy="663.44" r="2.05" fill="#7fc98c" stroke="#26394d" stroke-width="0.5"/>
<circle cx="105.65" cy="664.58" r="2.05" fill="#62aae6" stroke="#26394d" stroke-width="0.5"/>
<circle cx="100.25" cy="666.63" r="2.05" fill="#62aae6" stroke="#26394d" stroke-width="0.5"/>
<circle cx="101.9" cy="665.6" r="2.05" fill="#62aae6" stroke="#26394d" stroke-width="0.5"/>
<circle cx="103.01" cy="667.1" r="2.05" fill="#62aae6" stroke="#26394d" stroke-width="0.5"/>
<circle cx="103.19" cy="666.61" r="2.05" fill="#62aae6" stroke="#26394d" stroke-width="0.5"/>
<circle cx="95.62" cy="667.78" r="2.05" fill="#62aae6" stroke="#26394d" stroke-width="0.5"/>
<circle cx="102.78" cy="668.8" r="2.05" fill="#62aae6" stroke="#26394d" stroke-width="0.5"/>
<circle cx="104.88" cy="669.99" r="2.05" fill="#62aae6" stroke="#26394d" stroke-width="0.5"/>
<circle cx="99.92" cy="670.81" r="2.05" fill="#62aae6" stroke="#26394d" stroke-width="0.5"/>
<circle cx="96.31" cy="671.6" r="2.05" fill="#7fc98c" stroke="#26394d" stroke-width="0.5"/>
<circle cx="105.34" cy="670.63" r="2.05" fill="#62aae6" stroke="#26394d" stroke-width="0.5"/>
<circle cx="98.43" cy="672.22" r="2.05" fill="#62aae6" stroke="#26394d" stroke-width="0.5"/>
<circle cx="98.95" cy="672.25" r="2.05" fill="#62aae6" stroke="#26394d" stroke-width="0.5"/>
<circle cx="104.7" cy="673.33" r="2.05" fill="#62aae6" stroke="#26394d" stroke-width="0.5"/>
<circle cx="104.21" cy="674.77" r="2.05" fill="#62aae6" stroke="#26394d" stroke-width="0.5"/>
<circle cx="97" cy="674.76" r="2.05" fill="#62aae6" stroke="#26394d" stroke-width="0.5"/>
<circle cx="104.71" cy="676.07" r="2.05" fill="#62aae6" stroke="#26394d" stroke-width="0.5"/>
<circle cx="102.72" cy="675.73" r="2.05" fill="#7fc98c" stroke="#26394d" stroke-width="0.5"/>
<circle cx="101.26" cy="676.97" r="2.05" fill="#62aae6" stroke="#26394d" stroke-width="0.5"/>
<circle cx="95.96" cy="676.27" r="2.05" fill="#62aae6" stroke="#26394d" stroke-width="0.5"/>
<circle cx="105.59" cy="678.24" r="2.05" fill="#62aae6" stroke="#26394d" stroke-width="0.5"/>
<circle cx="103.63" cy="677.01" r="2.05" fill="#62aae6" stroke="#26394d" stroke-width="0.5"/>
<circle cx="96.87" cy="678.39" r="2.05" fill="#62aae6" stroke="#26394d" stroke-width="0.5"/>
<circle cx="103.3" cy="678.72" r="2.05" fill="#62aae6" stroke="#26394d" stroke-width="0.5"/>
<circle cx="95.76" cy="680.72" r="2.05" fill="#62aae6" stroke="#26394d" stroke-width="0.5"/>
<circle cx="95.77" cy="680.71" r="2.05" fill="#62aae6" stroke="#26394d" stroke-width="0.5"/>
<circle cx="98.74" cy="681.57" r="2.05" fill="#62aae6" stroke="#26394d" stroke-width="0.5"/>
<circle cx="105.5" cy="682.57" r="2.05" fill="#62aae6" stroke="#26394d" stroke-width="0.5"/>
<circle cx="105.68" cy="682.27" r="2.05" fill="#62aae6" stroke="#26394d" stroke-width="0.5"/>
<circle cx="96.1" cy="682.41" r="2.05" fill="#62aae6" stroke="#26394d" stroke-width="0.5"/>
<circle cx="95.63" cy="683.72" r="2.05" fill="#62aae6" stroke="#26394d" stroke-width="0.5"/>
<circle cx="99.54" cy="683.36" r="2.05" fill="#62aae6" stroke="#26394d" stroke-width="0.5"/>
<circle cx="96.92" cy="684.96" r="2.05" fill="#62aae6" stroke="#26394d" stroke-width="0.5"/>
<circle cx="104.32" cy="684.21" r="2.05" fill="#62aae6" stroke="#26394d" stroke-width="0.5"/>
<circle cx="105.27" cy="685.47" r="2.05" fill="#62aae6" stroke="#26394d" stroke-width="0.5"/>
<circle cx="99.23" cy="687.47" r="2.05" fill="#62aae6" stroke="#26394d" stroke-width="0.5"/>
<circle cx="100.71" cy="687.04" r="2.05" fill="#62aae6" stroke="#26394d" stroke-width="0.5"/>
<circle cx="101.49" cy="688.08" r="2.05" fill="#62aae6" stroke="#26394d" stroke-width="0.5"/>
<circle cx="101.75" cy="688.49" r="2.05" fill="#62aae6" stroke="#26394d" stroke-width="0.5"/>
<circle cx="100.57" cy="690.01" r="2.05" fill="#62aae6" stroke="#26394d" stroke-width="0.5"/>
<circle cx="102.79" cy="689.4" r="2.05" fill="#62aae6" stroke="#26394d" stroke-width="0.5"/>
<circle cx="98.43" cy="689.54" r="2.05" fill="#62aae6" stroke="#26394d" stroke-width="0.5"/>
<circle cx="100.72" cy="691.93" r="2.05" fill="#62aae6" stroke="#26394d" stroke-width="0.5"/>
<circle cx="95.42" cy="691.51" r="2.05" fill="#62aae6" stroke="#26394d" stroke-width="0.5"/>
<circle cx="97" cy="698" r="2.05" fill="#62aae6" stroke="#26394d" stroke-width="0.5"/>
<circle cx="100" cy="697" r="2.05" fill="#62aae6" stroke="#26394d" stroke-width="0.5"/>
<circle cx="103.5" cy="700" r="2.05" fill="#62aae6" stroke="#26394d" stroke-width="0.5"/>
<circle cx="98.5" cy="702" r="2.05" fill="#62aae6" stroke="#26394d" stroke-width="0.5"/>
<circle cx="102" cy="703.5" r="2.05" fill="#62aae6" stroke="#26394d" stroke-width="0.5"/>
<circle cx="98" cy="714.2" r="2.05" fill="#62aae6" stroke="#26394d" stroke-width="0.5"/>
<circle cx="101.2" cy="714.2" r="2.05" fill="#62aae6" stroke="#26394d" stroke-width="0.5"/>
<circle cx="188" cy="645.8" r="2.05" fill="#c97ccc" stroke="#26394d" stroke-width="0.5"/>
<circle cx="186.2" cy="651.3" r="2.05" fill="#c97ccc" stroke="#26394d" stroke-width="0.5"/>
<circle cx="190" cy="652.5" r="2.05" fill="#c97ccc" stroke="#26394d" stroke-width="0.5"/>
<circle cx="185" cy="657.5" r="2.05" fill="#7fc98c" stroke="#26394d" stroke-width="0.5"/>
<circle cx="191.2" cy="658.8" r="2.05" fill="#c97ccc" stroke="#26394d" stroke-width="0.5"/>
<circle cx="183.8" cy="661.3" r="2.05" fill="#7fc98c" stroke="#26394d" stroke-width="0.5"/>
<circle cx="188.8" cy="663.8" r="2.05" fill="#c97ccc" stroke="#26394d" stroke-width="0.5"/>
<circle cx="191.2" cy="662.5" r="2.05" fill="#c97ccc" stroke="#26394d" stroke-width="0.5"/>
<circle cx="185" cy="664.5" r="2.05" fill="#7fc98c" stroke="#26394d" stroke-width="0.5"/>
<circle cx="189.5" cy="666.3" r="2.05" fill="#c97ccc" stroke="#26394d" stroke-width="0.5"/>
<circle cx="187.5" cy="670" r="2.05" fill="#c97ccc" stroke="#26394d" stroke-width="0.5"/>
<circle cx="190" cy="670.5" r="2.05" fill="#62aae6" stroke="#26394d" stroke-width="0.5"/>
<circle cx="183.8" cy="673" r="2.05" fill="#c97ccc" stroke="#26394d" stroke-width="0.5"/>
<circle cx="188.8" cy="672" r="2.05" fill="#7fc98c" stroke="#26394d" stroke-width="0.5"/>
<circle cx="191.2" cy="675.8" r="2.05" fill="#7fc98c" stroke="#26394d" stroke-width="0.5"/>
<line x1="100.5" y1="728" x2="100.5" y2="730.3" stroke="#333" stroke-width="0.6"/>
<text x="100.5" y="740.2" font-size="7.4" text-anchor="middle" fill="#1c1c1c">UVR</text>
<line x1="188" y1="728" x2="188" y2="730.3" stroke="#333" stroke-width="0.6"/>
<text x="188" y="740.2" font-size="7.4" text-anchor="middle" fill="#1c1c1c">SBS38</text>
<text x="293.4" y="613.9" font-size="10" font-weight="bold" fill="#111">E</text>
<rect x="327.3" y="611.6" width="193.2" height="116.4" fill="url(#gg)"/>
<line x1="327.3" y1="611.6" x2="327.3" y2="728" stroke="#222" stroke-width="0.7"/>
<line x1="327.3" y1="728" x2="520.5" y2="728" stroke="#222" stroke-width="0.6"/>
<line x1="327.3" y1="611.6" x2="520.5" y2="611.6" stroke="#222" stroke-width="0.5"/>
<text x="322.3" y="624.4" font-size="7.3" text-anchor="end" fill="#1c1c1c">100</text>
<line x1="324.2" y1="621.8" x2="327.3" y2="621.8" stroke="#333" stroke-width="0.6"/>
<text x="322.3" y="648.4" font-size="7.3" text-anchor="end" fill="#1c1c1c">50</text>
<line x1="324.2" y1="645.8" x2="327.3" y2="645.8" stroke="#333" stroke-width="0.6"/>
<text x="322.3" y="672.6" font-size="7.3" text-anchor="end" fill="#1c1c1c">0</text>
<line x1="324.2" y1="670" x2="327.3" y2="670" stroke="#333" stroke-width="0.6"/>
<text x="322.3" y="696.7" font-size="7.3" text-anchor="end" fill="#1c1c1c">50</text>
<line x1="324.2" y1="694.1" x2="327.3" y2="694.1" stroke="#333" stroke-width="0.6"/>
<text x="322.3" y="720.8" font-size="7.3" text-anchor="end" fill="#1c1c1c">100</text>
<line x1="324.2" y1="718.2" x2="327.3" y2="718.2" stroke="#333" stroke-width="0.6"/>
<text x="298.4" y="670" font-size="7.6" text-anchor="middle" transform="rotate(-90 298.4 670)" fill="#1c1c1c">% Difference in</text>
<text x="307.7" y="670" font-size="7.6" text-anchor="middle" transform="rotate(-90 307.7 670)" fill="#1c1c1c">signature contribution</text>
<line x1="377.5" y1="665" x2="377.5" y2="684.5" stroke="#444" stroke-width="0.5"/>
<line x1="357" y1="665" x2="398.3" y2="665" stroke="#444" stroke-width="0.6"/>
<line x1="357" y1="684.5" x2="398.3" y2="684.5" stroke="#444" stroke-width="0.6"/>
<rect x="346.3" y="670.5" width="62.5" height="5.3" fill="#fff" stroke="#444" stroke-width="0.6"/>
<line x1="346.3" y1="672" x2="408.8" y2="672" stroke="#444" stroke-width="0.7"/>
<line x1="460.5" y1="657.2" x2="460.5" y2="678.8" stroke="#444" stroke-width="0.5"/>
<line x1="440.4" y1="657.2" x2="480.8" y2="657.2" stroke="#444" stroke-width="0.6"/>
<line x1="440.4" y1="678.8" x2="480.8" y2="678.8" stroke="#444" stroke-width="0.6"/>
<rect x="429.5" y="662.2" width="62.8" height="5.6" fill="#fff" stroke="#444" stroke-width="0.6"/>
<line x1="429.5" y1="664.5" x2="492.3" y2="664.5" stroke="#444" stroke-width="0.7"/>
<line x1="419.6" y1="626.5" x2="419.6" y2="714" stroke="#000" stroke-width="2.7"/>
<path d="M416 631 L419.6 625.6 L423.2 631 M416 709.4 L419.6 714.8 L423.2 709.4" fill="none" stroke="#000" stroke-width="2.5" stroke-linejoin="miter" stroke-linecap="round"/>
<rect x="417.2" y="667.6" width="4.8" height="4.8" fill="#fff"/>
<line x1="324.3" y1="670" x2="511" y2="670" stroke="#444" stroke-width="1.3" stroke-dasharray="3.2 2.3"/>
<text x="419.6" y="619.6" font-size="7.5" text-anchor="middle" font-weight="bold" fill="#fff">Subclonal</text>
<text x="419.6" y="725.4" font-size="7.5" text-anchor="middle" font-weight="bold" fill="#fff">Clonal</text>
<circle cx="378.39" cy="664.46" r="2.05" fill="#62aae6" stroke="#26394d" stroke-width="0.5"/>
<circle cx="378.97" cy="665.56" r="2.05" fill="#62aae6" stroke="#26394d" stroke-width="0.5"/>
<circle cx="377.12" cy="666.35" r="2.05" fill="#62aae6" stroke="#26394d" stroke-width="0.5"/>
<circle cx="379.8" cy="666.68" r="2.05" fill="#62aae6" stroke="#26394d" stroke-width="0.5"/>
<circle cx="372.63" cy="666.93" r="2.05" fill="#62aae6" stroke="#26394d" stroke-width="0.5"/>
<circle cx="374.76" cy="669.2" r="2.05" fill="#62aae6" stroke="#26394d" stroke-width="0.5"/>
<circle cx="375.52" cy="669.38" r="2.05" fill="#62aae6" stroke="#26394d" stroke-width="0.5"/>
<circle cx="376.06" cy="669.71" r="2.05" fill="#62aae6" stroke="#26394d" stroke-width="0.5"/>
<circle cx="376.15" cy="670.46" r="2.05" fill="#62aae6" stroke="#26394d" stroke-width="0.5"/>
<circle cx="378.26" cy="670.8" r="2.05" fill="#62aae6" stroke="#26394d" stroke-width="0.5"/>
<circle cx="374.47" cy="672.02" r="2.05" fill="#62aae6" stroke="#26394d" stroke-width="0.5"/>
<circle cx="374.1" cy="672.68" r="2.05" fill="#62aae6" stroke="#26394d" stroke-width="0.5"/>
<circle cx="373.19" cy="674.19" r="2.05" fill="#7fc98c" stroke="#26394d" stroke-width="0.5"/>
<circle cx="381.11" cy="674.38" r="2.05" fill="#62aae6" stroke="#26394d" stroke-width="0.5"/>
<circle cx="373.94" cy="675.99" r="2.05" fill="#7fc98c" stroke="#26394d" stroke-width="0.5"/>
<circle cx="381.64" cy="676.43" r="2.05" fill="#62aae6" stroke="#26394d" stroke-width="0.5"/>
<circle cx="373.43" cy="676.52" r="2.05" fill="#62aae6" stroke="#26394d" stroke-width="0.5"/>
<circle cx="380.79" cy="677.24" r="2.05" fill="#62aae6" stroke="#26394d" stroke-width="0.5"/>
<circle cx="375.13" cy="678" r="2.05" fill="#62aae6" stroke="#26394d" stroke-width="0.5"/>
<circle cx="380.76" cy="679.51" r="2.05" fill="#7fc98c" stroke="#26394d" stroke-width="0.5"/>
<circle cx="375.29" cy="679.46" r="2.05" fill="#62aae6" stroke="#26394d" stroke-width="0.5"/>
<circle cx="375.87" cy="680.46" r="2.05" fill="#62aae6" stroke="#26394d" stroke-width="0.5"/>
<circle cx="376.54" cy="681.47" r="2.05" fill="#62aae6" stroke="#26394d" stroke-width="0.5"/>
<circle cx="372.27" cy="681.82" r="2.05" fill="#62aae6" stroke="#26394d" stroke-width="0.5"/>
<circle cx="382.6" cy="683.75" r="2.05" fill="#62aae6" stroke="#26394d" stroke-width="0.5"/>
<circle cx="381.97" cy="684.64" r="2.05" fill="#c97ccc" stroke="#26394d" stroke-width="0.5"/>
<circle cx="381.01" cy="685.08" r="2.05" fill="#62aae6" stroke="#26394d" stroke-width="0.5"/>
<circle cx="375.3" cy="685.49" r="2.05" fill="#c97ccc" stroke="#26394d" stroke-width="0.5"/>
<circle cx="373" cy="685.8" r="2.05" fill="#62aae6" stroke="#26394d" stroke-width="0.5"/>
<circle cx="380.63" cy="686.67" r="2.05" fill="#c97ccc" stroke="#26394d" stroke-width="0.5"/>
<circle cx="379.29" cy="688.43" r="2.05" fill="#62aae6" stroke="#26394d" stroke-width="0.5"/>
<circle cx="381.04" cy="689.19" r="2.05" fill="#62aae6" stroke="#26394d" stroke-width="0.5"/>
<circle cx="379.75" cy="688.55" r="2.05" fill="#c97ccc" stroke="#26394d" stroke-width="0.5"/>
<circle cx="378.9" cy="689.78" r="2.05" fill="#62aae6" stroke="#26394d" stroke-width="0.5"/>
<circle cx="381.06" cy="690.73" r="2.05" fill="#62aae6" stroke="#26394d" stroke-width="0.5"/>
<circle cx="375.57" cy="691.39" r="2.05" fill="#62aae6" stroke="#26394d" stroke-width="0.5"/>
<circle cx="379.56" cy="692.38" r="2.05" fill="#c97ccc" stroke="#26394d" stroke-width="0.5"/>
<circle cx="377.75" cy="692.71" r="2.05" fill="#62aae6" stroke="#26394d" stroke-width="0.5"/>
<circle cx="379.47" cy="693.44" r="2.05" fill="#62aae6" stroke="#26394d" stroke-width="0.5"/>
<circle cx="379.35" cy="695.23" r="2.05" fill="#c97ccc" stroke="#26394d" stroke-width="0.5"/>
<circle cx="379.48" cy="695.71" r="2.05" fill="#c97ccc" stroke="#26394d" stroke-width="0.5"/>
<circle cx="376.27" cy="695.92" r="2.05" fill="#c97ccc" stroke="#26394d" stroke-width="0.5"/>
<circle cx="377.37" cy="696.93" r="2.05" fill="#62aae6" stroke="#26394d" stroke-width="0.5"/>
<circle cx="375.41" cy="697.03" r="2.05" fill="#c97ccc" stroke="#26394d" stroke-width="0.5"/>
<circle cx="456.1" cy="657.6" r="2.05" fill="#c97ccc" stroke="#26394d" stroke-width="0.5"/>
<circle cx="456.8" cy="660.9" r="2.05" fill="#c97ccc" stroke="#26394d" stroke-width="0.5"/>
<circle cx="457.2" cy="663.9" r="2.05" fill="#c97ccc" stroke="#26394d" stroke-width="0.5"/>
<circle cx="456.5" cy="666.9" r="2.05" fill="#c97ccc" stroke="#26394d" stroke-width="0.5"/>
<circle cx="457.7" cy="669.6" r="2.05" fill="#c97ccc" stroke="#26394d" stroke-width="0.5"/>
<circle cx="462.8" cy="658.1" r="2.05" fill="#7fc98c" stroke="#26394d" stroke-width="0.5"/>
<circle cx="462.8" cy="661.1" r="2.05" fill="#7fc98c" stroke="#26394d" stroke-width="0.5"/>
<circle cx="462.3" cy="664.1" r="2.05" fill="#7fc98c" stroke="#26394d" stroke-width="0.5"/>
<circle cx="462.8" cy="666.9" r="2.05" fill="#7fc98c" stroke="#26394d" stroke-width="0.5"/>
<circle cx="461.9" cy="669.9" r="2.05" fill="#7fc98c" stroke="#26394d" stroke-width="0.5"/>
<circle cx="462.8" cy="672.4" r="2.05" fill="#7fc98c" stroke="#26394d" stroke-width="0.5"/>
<circle cx="459.5" cy="662.7" r="2.05" fill="#c97ccc" stroke="#26394d" stroke-width="0.5"/>
<circle cx="459.5" cy="665.5" r="2.05" fill="#7fc98c" stroke="#26394d" stroke-width="0.5"/>
<circle cx="460" cy="668.5" r="2.05" fill="#7fc98c" stroke="#26394d" stroke-width="0.5"/>
<circle cx="458.9" cy="671.9" r="2.05" fill="#bfd977" stroke="#26394d" stroke-width="0.5"/>
<circle cx="460.5" cy="674.9" r="2.05" fill="#bfd977" stroke="#26394d" stroke-width="0.5"/>
<circle cx="461.9" cy="678.4" r="2.05" fill="#bfd977" stroke="#26394d" stroke-width="0.5"/>
<circle cx="465.3" cy="678.4" r="2.05" fill="#c97ccc" stroke="#26394d" stroke-width="0.5"/>
<line x1="377.5" y1="728" x2="377.5" y2="730.3" stroke="#333" stroke-width="0.6"/>
<text x="377.5" y="740.2" font-size="7.4" text-anchor="middle" fill="#1c1c1c">UVR</text>
<line x1="461" y1="728" x2="461" y2="730.3" stroke="#333" stroke-width="0.6"/>
<text x="461" y="740.2" font-size="7.4" text-anchor="middle" fill="#1c1c1c">SBS38</text>
<text x="243.2" y="656.6" font-size="7" fill="#1c1c1c">Subtype</text>
<circle cx="246.2" cy="663" r="2.05" fill="#c97ccc" stroke="#333" stroke-width="0.5"/>
<text x="250.8" y="665.5" font-size="7" fill="#1c1c1c">Acral</text>
<circle cx="246.2" cy="670.5" r="2.05" fill="#62aae6" stroke="#333" stroke-width="0.5"/>
<text x="250.8" y="673" font-size="7" fill="#1c1c1c">Cutaneous</text>
<circle cx="246.2" cy="678" r="2.05" fill="#7fc98c" stroke="#333" stroke-width="0.5"/>
<text x="250.8" y="680.5" font-size="7" fill="#1c1c1c">Mucosal</text>
<circle cx="246.2" cy="685.5" r="2.05" fill="#e2a040" stroke="#333" stroke-width="0.5"/>
<text x="250.8" y="688" font-size="7" fill="#1c1c1c">Uveal</text>
</svg>
</body></html>
